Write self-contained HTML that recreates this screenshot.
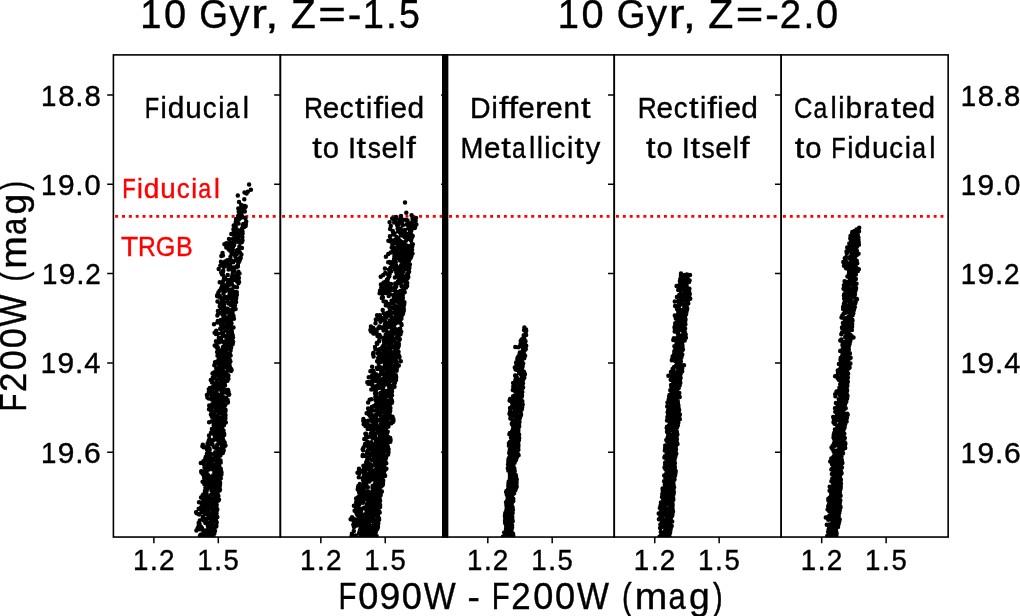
<!DOCTYPE html>
<html><head><meta charset="utf-8"><title>CMD panels</title><style>
html,body{margin:0;padding:0;background:#fff;width:1020px;height:616px;overflow:hidden}
svg{display:block;will-change:transform}
text{font-family:"Liberation Sans",sans-serif}
</style></head><body>
<svg width="1020" height="616" viewBox="0 0 1020 616"><defs><clipPath id="ax"><rect x="113.4" y="54.9" width="834.75" height="482.15"/></clipPath></defs>
<rect width="1020" height="616" fill="#fff"/>
<path fill="none" stroke="#f00" stroke-width="2.8" stroke-dasharray="2.95 3.9" d="M115.15 216.45H279.75M282.1 216.45H446.7M449.05 216.45H613.65M616 216.45H780.6M782.95 216.45H947.55"/>
<g clip-path="url(#ax)"><path fill="none" stroke="#000" stroke-width="4.5" stroke-linecap="round" d="M241.2 205.0h0M241.7 205.3h0M244.7 205.9h0M245.7 206.4h0M245.0 207.3h0M243.2 208.0h0M238.3 208.6h0M241.6 209.1h0M244.0 209.7h0M244.3 210.2h0M243.7 210.5h0M241.6 210.8h0M244.8 211.4h0M238.7 211.8h0M239.3 213.2h0M241.2 213.7h0M240.8 215.2h0M238.1 215.9h0M242.3 216.3h0M239.9 217.2h0M241.4 217.6h0M245.4 218.2h0M239.8 218.3h0M236.1 218.9h0M239.0 219.3h0M236.2 219.8h0M236.5 220.9h0M246.2 221.5h0M235.7 221.9h0M236.3 222.7h0M245.9 223.1h0M238.5 223.6h0M243.4 223.9h0M245.8 224.7h0M242.8 225.0h0M233.7 225.4h0M245.6 225.9h0M235.7 226.4h0M244.2 227.0h0M242.7 227.6h0M242.3 228.0h0M242.3 228.7h0M236.7 229.2h0M233.4 229.3h0M242.0 230.2h0M239.8 230.5h0M239.5 231.2h0M242.5 231.4h0M233.9 232.0h0M235.5 232.7h0M235.9 233.2h0M242.6 233.5h0M231.3 234.1h0M236.8 234.5h0M240.1 235.0h0M235.7 235.6h0M234.6 236.0h0M238.4 236.5h0M242.4 237.2h0M242.3 237.3h0M234.0 237.9h0M237.6 238.2h0M233.1 238.7h0M229.0 239.0h0M229.4 239.6h0M235.4 239.8h0M234.7 240.2h0M242.5 240.4h0M239.1 240.8h0M239.8 240.8h0M235.4 241.3h0M237.3 241.8h0M241.8 242.2h0M240.3 242.7h0M233.0 242.5h0M229.5 243.0h0M226.4 243.3h0M228.1 243.4h0M229.6 243.8h0M224.4 244.3h0M234.2 245.0h0M231.9 245.7h0M233.2 246.2h0M239.4 246.6h0M231.2 246.3h0M228.2 246.8h0M239.5 247.1h0M227.9 247.5h0M226.3 247.4h0M241.9 247.9h0M229.0 248.3h0M232.1 248.9h0M232.7 248.9h0M230.6 249.3h0M228.7 249.5h0M237.4 250.1h0M230.2 250.7h0M236.7 250.8h0M238.9 251.1h0M238.4 251.5h0M238.8 252.2h0M239.9 252.6h0M222.5 252.9h0M233.1 253.1h0M231.7 253.6h0M231.9 254.1h0M236.6 254.3h0M241.4 254.4h0M235.4 255.1h0M222.9 255.4h0M221.4 255.9h0M235.3 256.4h0M230.5 256.8h0M240.2 257.5h0M240.7 257.9h0M240.2 258.5h0M240.3 258.7h0M238.9 258.9h0M230.5 259.3h0M229.6 259.8h0M227.4 260.2h0M235.8 260.3h0M239.5 260.7h0M227.8 261.2h0M232.3 261.0h0M220.9 261.7h0M225.1 261.5h0M238.3 262.1h0M238.9 262.0h0M233.2 262.3h0M226.8 263.1h0M225.7 263.4h0M222.7 264.2h0M229.8 264.2h0M228.7 264.3h0M226.3 264.9h0M237.9 265.0h0M230.1 265.4h0M220.3 265.7h0M229.6 266.2h0M223.5 265.9h0M236.9 266.3h0M237.9 266.5h0M236.3 267.2h0M224.1 266.8h0M234.1 267.6h0M228.4 267.3h0M232.4 267.8h0M232.1 268.3h0M231.0 268.4h0M218.7 269.0h0M228.6 269.4h0M233.4 269.8h0M232.7 270.4h0M223.2 270.4h0M232.8 271.1h0M234.0 270.9h0M223.1 271.6h0M238.4 271.8h0M222.9 272.1h0M221.3 272.4h0M221.3 272.8h0M237.4 273.6h0M239.5 273.4h0M238.2 273.8h0M232.5 273.9h0M222.1 274.4h0M222.9 274.7h0M227.7 275.0h0M238.0 275.4h0M237.5 275.5h0M234.8 275.8h0M238.1 276.6h0M237.6 276.4h0M231.8 277.1h0M224.8 277.6h0M238.1 277.7h0M224.0 278.2h0M238.9 277.9h0M234.5 278.6h0M231.8 278.4h0M235.4 278.8h0M234.8 278.8h0M230.8 279.7h0M224.9 279.3h0M234.0 279.9h0M228.0 280.1h0M236.7 280.3h0M223.3 280.9h0M237.1 281.4h0M229.5 281.7h0M239.1 282.0h0M219.7 282.3h0M238.4 283.2h0M227.9 283.1h0M231.2 283.4h0M222.7 284.0h0M231.7 283.8h0M232.0 284.4h0M229.4 284.3h0M229.3 284.8h0M226.5 284.9h0M224.4 285.4h0M225.3 286.1h0M222.1 286.2h0M234.3 286.7h0M227.1 286.3h0M225.2 286.8h0M221.6 287.7h0M237.0 287.3h0M222.0 288.2h0M221.1 288.4h0M224.9 288.9h0M232.2 289.2h0M229.0 289.6h0M223.2 289.5h0M230.0 290.0h0M226.7 290.1h0M226.1 290.5h0M219.6 290.8h0M225.8 290.8h0M232.4 291.3h0M236.8 292.2h0M235.2 292.1h0M218.4 292.6h0M234.9 293.2h0M235.3 292.9h0M223.5 293.3h0M229.7 293.7h0M229.6 294.1h0M236.8 294.4h0M232.3 294.3h0M236.8 295.1h0M217.2 295.3h0M229.4 295.5h0M219.8 296.1h0M217.2 296.3h0M224.3 296.5h0M226.7 297.2h0M220.1 297.6h0M234.7 297.5h0M228.5 298.1h0M231.9 298.2h0M227.9 298.4h0M236.2 298.3h0M227.4 299.2h0M223.4 299.3h0M235.2 299.6h0M234.3 300.0h0M232.2 299.9h0M221.9 300.4h0M232.3 300.7h0M227.7 301.1h0M217.5 301.4h0M236.1 301.9h0M223.8 302.7h0M231.0 303.2h0M233.8 303.7h0M228.5 303.4h0M220.2 303.8h0M224.1 304.3h0M230.8 305.1h0M231.6 305.0h0M233.1 305.7h0M235.0 305.3h0M219.7 306.2h0M233.0 306.2h0M223.0 306.3h0M221.5 307.0h0M222.5 307.6h0M224.6 307.7h0M233.5 307.8h0M227.7 308.7h0M220.9 308.4h0M235.6 309.0h0M232.3 309.5h0M232.9 310.2h0M223.0 310.1h0M230.3 310.6h0M224.8 311.2h0M217.9 310.9h0M226.5 311.7h0M225.6 312.1h0M231.1 311.9h0M229.3 312.3h0M227.7 312.5h0M221.0 312.9h0M232.6 313.3h0M222.4 313.8h0M222.4 314.2h0M217.7 314.7h0M230.1 314.8h0M217.4 315.4h0M231.2 315.5h0M224.4 316.1h0M233.5 316.0h0M223.4 316.6h0M230.6 317.2h0M227.7 317.4h0M227.5 317.5h0M229.1 317.9h0M223.5 318.5h0M230.4 318.5h0M233.9 318.8h0M224.5 319.7h0M224.7 319.7h0M228.1 320.1h0M220.9 319.9h0M220.8 320.4h0M224.6 320.7h0M217.8 321.1h0M230.8 321.0h0M230.9 321.5h0M219.6 321.3h0M219.1 321.9h0M217.4 322.6h0M219.4 322.4h0M222.5 323.1h0M231.5 323.2h0M230.0 323.7h0M214.0 324.2h0M227.3 323.8h0M220.9 324.7h0M230.1 324.7h0M229.8 325.2h0M229.9 324.8h0M225.2 325.4h0M223.9 326.0h0M224.0 326.2h0M230.9 326.5h0M221.6 326.7h0M226.8 326.8h0M226.2 327.2h0M233.5 327.5h0M231.9 327.6h0M221.4 328.0h0M229.3 328.0h0M222.2 328.4h0M220.8 328.4h0M231.4 328.8h0M220.2 328.8h0M226.1 329.6h0M226.2 330.1h0M225.8 330.4h0M216.2 330.8h0M231.8 331.4h0M229.3 331.9h0M222.1 332.5h0M214.6 332.7h0M231.9 332.8h0M221.3 333.2h0M223.0 333.3h0M217.6 333.8h0M215.9 334.1h0M228.1 334.3h0M228.9 334.7h0M227.5 335.2h0M232.7 335.3h0M229.7 335.4h0M222.8 335.9h0M224.6 336.1h0M229.2 336.6h0M225.7 336.4h0M232.3 337.0h0M233.0 337.6h0M218.8 337.7h0M226.7 338.2h0M229.4 337.8h0M221.0 338.7h0M231.0 338.7h0M230.6 338.9h0M230.2 339.1h0M219.2 339.5h0M232.0 340.1h0M226.4 339.9h0M228.0 340.5h0M228.4 340.5h0M230.8 341.0h0M216.0 341.3h0M226.9 341.5h0M223.1 341.8h0M233.1 341.8h0M228.7 342.5h0M219.5 342.3h0M232.8 343.0h0M224.2 343.1h0M231.8 343.7h0M232.2 343.3h0M216.6 343.8h0M231.1 344.0h0M226.3 344.5h0M232.6 344.3h0M230.8 344.8h0M228.6 345.1h0M214.7 345.6h0M226.5 346.0h0M216.0 346.4h0M223.0 346.9h0M217.8 347.2h0M231.1 347.7h0M216.9 347.3h0M229.4 348.0h0M229.1 348.6h0M217.3 348.3h0M224.4 349.2h0M222.1 349.4h0M229.3 349.3h0M226.4 350.0h0M219.5 350.4h0M230.6 350.4h0M220.8 350.8h0M223.8 351.5h0M217.1 352.1h0M218.0 352.3h0M223.0 352.9h0M226.5 353.5h0M229.2 353.8h0M230.0 354.2h0M220.4 354.4h0M224.4 354.5h0M222.9 355.1h0M228.2 354.9h0M230.6 355.5h0M223.1 356.2h0M217.5 355.8h0M228.1 356.3h0M225.9 356.3h0M223.6 357.1h0M226.2 356.8h0M222.1 357.3h0M220.4 357.5h0M226.6 358.2h0M219.8 358.7h0M227.0 358.9h0M218.7 359.2h0M229.5 359.7h0M229.8 360.0h0M224.1 360.0h0M220.4 360.3h0M229.0 360.3h0M217.4 361.2h0M224.0 361.0h0M230.4 361.4h0M224.6 361.5h0M222.1 362.0h0M215.0 362.3h0M217.8 362.4h0M228.5 363.0h0M224.8 363.1h0M222.9 363.5h0M218.2 363.4h0M219.7 363.8h0M221.8 364.2h0M227.5 364.3h0M229.4 364.3h0M214.3 365.2h0M226.9 364.9h0M225.7 365.7h0M228.6 365.6h0M227.4 366.1h0M223.9 366.2h0M229.8 366.4h0M221.3 366.6h0M220.1 366.9h0M229.4 367.0h0M218.3 367.5h0M224.0 367.7h0M229.5 368.2h0M216.3 368.2h0M227.8 368.7h0M222.6 368.6h0M219.2 368.9h0M231.1 369.0h0M219.4 369.5h0M231.2 369.5h0M231.6 370.0h0M228.0 369.9h0M228.0 370.3h0M231.0 371.0h0M217.2 371.5h0M215.3 371.6h0M223.7 372.0h0M226.6 372.1h0M222.6 372.3h0M220.9 372.4h0M222.2 372.8h0M213.4 372.8h0M226.6 373.7h0M212.5 373.6h0M224.4 373.8h0M216.2 374.2h0M217.6 374.4h0M219.2 374.4h0M227.9 374.9h0M227.3 374.9h0M228.4 375.7h0M215.4 375.6h0M215.3 375.9h0M217.9 375.8h0M225.9 376.4h0M214.2 376.4h0M222.9 376.8h0M223.7 376.9h0M212.7 377.7h0M213.2 378.1h0M228.4 378.7h0M219.7 378.5h0M223.5 379.2h0M221.2 378.9h0M220.2 379.6h0M220.7 379.4h0M216.6 379.9h0M210.8 379.9h0M223.5 380.5h0M227.4 380.7h0M211.8 380.8h0M222.4 381.5h0M222.3 381.4h0M212.5 382.2h0M223.8 381.8h0M212.0 382.4h0M216.5 382.4h0M220.3 382.9h0M215.7 383.2h0M214.3 383.7h0M221.0 383.4h0M224.8 384.2h0M223.9 384.1h0M223.8 384.4h0M222.6 384.7h0M217.5 385.1h0M217.0 385.2h0M224.1 385.6h0M225.0 385.5h0M221.4 385.9h0M215.4 386.4h0M214.3 386.6h0M212.7 387.0h0M215.2 387.2h0M219.8 387.7h0M220.6 387.6h0M209.9 387.9h0M211.9 387.9h0M222.8 388.3h0M214.5 388.4h0M208.8 389.2h0M223.9 389.1h0M219.7 389.5h0M216.8 389.5h0M227.8 390.1h0M228.1 389.9h0M212.6 389.8h0M226.0 390.3h0M228.0 390.6h0M223.8 390.8h0M225.7 390.9h0M212.3 391.5h0M228.4 391.5h0M210.5 392.2h0M208.8 392.0h0M223.4 392.7h0M226.4 392.5h0M221.9 393.0h0M214.4 393.1h0M227.6 393.4h0M216.8 393.4h0M208.4 394.0h0M229.2 394.2h0M229.0 394.7h0M220.7 394.5h0M217.6 394.9h0M206.9 395.1h0M215.0 395.5h0M218.7 395.4h0M219.1 396.2h0M212.1 396.0h0M212.1 396.0h0M219.6 396.5h0M219.9 396.5h0M219.0 397.1h0M223.0 397.2h0M215.2 397.2h0M224.1 397.6h0M207.4 397.4h0M219.8 397.9h0M222.4 398.2h0M226.2 398.1h0M223.6 398.7h0M208.8 398.6h0M222.6 399.1h0M224.4 399.2h0M211.7 399.5h0M225.1 399.3h0M214.5 400.2h0M218.2 400.2h0M227.6 399.9h0M224.0 400.3h0M224.5 400.4h0M219.6 400.9h0M219.1 400.8h0M216.3 401.4h0M213.7 401.5h0M227.9 401.8h0M220.8 401.9h0M227.9 402.5h0M223.0 402.6h0M220.8 403.1h0M222.1 403.1h0M217.8 403.3h0M213.1 403.7h0M213.7 403.9h0M213.3 403.8h0M215.5 404.5h0M212.2 404.3h0M218.3 404.8h0M225.3 404.9h0M209.2 405.6h0M210.4 405.4h0M219.7 405.6h0M218.7 406.2h0M224.6 405.8h0M210.5 406.6h0M219.8 406.6h0M213.2 407.0h0M211.6 406.8h0M221.4 407.3h0M209.7 407.6h0M223.2 408.0h0M218.6 408.1h0M222.2 408.4h0M215.9 408.5h0M209.7 409.0h0M222.4 409.7h0M209.0 409.3h0M217.1 409.8h0M225.5 409.8h0M210.7 410.6h0M217.1 410.4h0M216.5 411.2h0M225.5 410.9h0M212.9 411.4h0M219.9 411.7h0M218.6 412.2h0M224.0 412.1h0M213.5 412.5h0M219.2 413.0h0M223.8 413.7h0M214.2 413.8h0M210.9 414.6h0M225.5 414.9h0M222.5 414.8h0M213.2 415.3h0M211.6 415.3h0M217.5 415.9h0M224.5 416.4h0M225.3 416.6h0M211.9 416.8h0M215.8 416.9h0M220.5 417.5h0M218.1 417.7h0M221.0 417.9h0M225.4 418.4h0M215.5 418.7h0M214.9 418.8h0M217.9 419.2h0M217.1 419.7h0M221.3 419.6h0M217.3 420.1h0M217.7 420.1h0M224.2 420.6h0M217.2 420.4h0M224.5 421.0h0M211.9 421.2h0M223.9 421.3h0M222.5 421.3h0M209.1 422.2h0M216.9 421.8h0M225.8 422.5h0M221.3 422.6h0M216.8 422.9h0M213.3 422.8h0M217.6 423.3h0M220.5 423.4h0M222.7 424.1h0M223.1 424.0h0M218.4 424.3h0M215.0 424.6h0M222.2 424.9h0M220.2 425.1h0M213.7 425.5h0M223.9 425.3h0M215.3 426.2h0M214.4 426.2h0M215.9 426.7h0M219.3 426.5h0M219.5 427.1h0M221.2 426.9h0M222.0 427.3h0M220.8 427.3h0M220.0 427.8h0M219.6 428.0h0M221.9 428.3h0M216.4 429.2h0M211.9 428.9h0M222.6 429.5h0M214.6 429.4h0M221.5 429.9h0M213.8 430.5h0M217.5 430.7h0M223.5 430.8h0M212.8 431.0h0M212.9 431.6h0M221.4 431.5h0M218.5 432.2h0M217.7 432.7h0M216.0 432.6h0M211.0 432.8h0M219.2 432.8h0M212.6 433.5h0M213.0 433.3h0M224.1 433.8h0M218.4 434.5h0M219.8 434.6h0M221.5 435.2h0M224.2 435.0h0M222.1 435.5h0M209.0 435.4h0M221.8 436.2h0M218.6 436.4h0M214.9 436.6h0M220.9 436.8h0M216.8 437.0h0M217.4 437.3h0M215.9 437.6h0M217.0 437.9h0M218.6 437.8h0M222.7 438.3h0M216.2 438.5h0M216.1 438.9h0M209.4 438.9h0M216.7 439.4h0M220.3 439.4h0M213.0 439.9h0M223.2 440.0h0M221.0 439.8h0M213.3 440.3h0M218.9 440.4h0M208.6 440.9h0M221.3 441.0h0M223.8 441.6h0M222.5 441.3h0M211.6 442.2h0M218.7 441.8h0M224.7 442.6h0M222.3 442.5h0M222.2 443.2h0M221.3 443.2h0M207.6 443.4h0M219.0 443.4h0M221.3 443.6h0M222.3 443.8h0M222.5 443.8h0M202.8 444.7h0M212.5 444.5h0M207.4 445.2h0M217.3 444.8h0M221.9 445.1h0M222.2 445.4h0M225.5 445.4h0M223.8 445.7h0M202.4 446.2h0M208.4 445.8h0M222.8 446.4h0M224.4 446.6h0M217.1 447.2h0M217.3 447.0h0M214.2 447.2h0M221.9 447.5h0M223.2 447.6h0M203.6 447.3h0M223.0 448.0h0M215.9 447.9h0M217.3 448.6h0M209.5 448.5h0M218.0 449.2h0M218.7 448.9h0M220.4 449.3h0M206.9 449.3h0M209.7 449.7h0M207.4 450.2h0M207.6 450.0h0M209.0 450.4h0M223.7 450.4h0M222.6 450.7h0M219.7 450.8h0M219.3 451.0h0M219.0 451.4h0M222.4 451.4h0M215.2 452.2h0M209.2 451.8h0M218.8 452.5h0M219.9 452.4h0M222.8 453.1h0M219.1 453.2h0M210.8 453.7h0M210.9 453.7h0M214.1 454.2h0M206.9 453.8h0M216.8 454.5h0M215.0 454.7h0M219.8 455.1h0M218.2 455.2h0M217.9 455.6h0M220.4 455.6h0M215.4 455.8h0M209.1 455.9h0M218.7 456.6h0M209.9 456.6h0M208.7 457.0h0M205.7 457.1h0M209.6 457.4h0M218.3 457.7h0M213.3 458.1h0M211.1 458.1h0M214.0 458.5h0M214.1 458.7h0M205.2 459.1h0M216.2 458.9h0M210.1 459.3h0M216.6 459.5h0M215.8 459.9h0M213.0 460.2h0M220.5 460.6h0M216.0 460.4h0M218.7 461.1h0M206.8 460.8h0M207.6 460.8h0M219.3 461.5h0M203.4 461.3h0M219.4 462.0h0M217.6 461.8h0M211.1 462.4h0M220.7 462.6h0M217.1 462.8h0M200.8 463.0h0M216.5 463.3h0M218.6 463.3h0M210.1 463.9h0M208.0 464.0h0M204.0 464.5h0M213.1 464.5h0M214.7 464.6h0M209.5 465.2h0M212.1 464.9h0M204.4 465.6h0M216.9 465.6h0M216.6 465.8h0M219.3 466.2h0M205.3 465.8h0M214.7 466.7h0M218.5 466.3h0M210.5 467.0h0M216.7 466.8h0M206.1 467.3h0M215.6 467.7h0M209.7 468.1h0M204.5 467.8h0M211.6 468.3h0M217.9 468.4h0M216.2 469.1h0M220.7 468.8h0M212.9 469.5h0M208.9 469.6h0M219.5 469.6h0M217.9 469.8h0M205.8 469.9h0M221.0 470.7h0M216.5 470.7h0M206.5 471.0h0M201.2 471.2h0M217.3 471.3h0M217.9 471.6h0M214.4 472.2h0M202.8 471.9h0M201.4 472.6h0M221.5 472.5h0M215.4 473.1h0M206.3 472.8h0M205.6 473.7h0M214.5 473.6h0M215.7 473.8h0M202.8 473.9h0M221.4 474.4h0M217.3 474.3h0M207.7 474.6h0M216.5 475.2h0M218.0 474.9h0M213.6 475.3h0M204.6 475.7h0M213.2 475.3h0M218.9 476.2h0M206.8 476.0h0M204.0 476.1h0M206.2 476.4h0M209.5 476.6h0M219.2 477.1h0M218.5 476.8h0M216.0 477.3h0M211.4 477.4h0M204.2 477.9h0M212.8 477.9h0M220.8 478.3h0M220.4 478.4h0M218.8 478.8h0M208.2 479.1h0M211.3 479.3h0M214.7 479.3h0M216.3 479.9h0M211.7 480.1h0M205.6 480.5h0M219.4 480.4h0M210.5 480.8h0M216.4 481.2h0M206.6 481.0h0M213.9 481.7h0M210.8 481.7h0M209.9 482.1h0M202.6 481.8h0M207.1 482.5h0M215.6 482.4h0M220.1 482.8h0M212.0 483.2h0M206.6 483.5h0M210.7 483.7h0M209.8 484.2h0M204.3 483.9h0M220.0 484.5h0M217.1 484.5h0M205.9 485.2h0M212.8 485.1h0M206.7 485.5h0M214.7 485.6h0M216.9 486.0h0M214.7 486.1h0M219.7 486.4h0M206.1 486.7h0M216.2 486.9h0M206.2 486.8h0M209.6 487.3h0M212.7 487.6h0M205.4 487.8h0M214.5 487.9h0M216.1 488.6h0M213.7 488.7h0M216.0 488.9h0M217.0 489.2h0M212.8 489.3h0M207.0 489.3h0M214.7 489.9h0M220.0 489.8h0M219.6 490.4h0M211.5 490.5h0M206.7 490.8h0M204.9 491.1h0M215.2 491.5h0M212.1 491.3h0M216.5 492.0h0M216.5 491.9h0M213.9 492.3h0M206.2 492.5h0M215.0 493.1h0M205.8 493.1h0M205.5 493.6h0M206.5 493.4h0M216.8 494.2h0M216.2 493.9h0M203.3 494.5h0M217.7 494.3h0M210.9 494.9h0M214.7 495.1h0M202.6 495.5h0M205.4 495.5h0M215.4 496.0h0M218.4 496.1h0M209.3 496.4h0M217.9 496.5h0M206.1 497.1h0M215.2 496.8h0M201.0 497.6h0M202.6 497.3h0M203.0 498.1h0M208.1 497.8h0M202.0 498.1h0M217.4 498.7h0M211.4 498.5h0M213.9 498.8h0M218.4 499.2h0M203.8 499.5h0M219.0 499.7h0M205.5 500.0h0M215.4 500.0h0M214.1 500.7h0M218.0 500.7h0M215.2 500.4h0M205.2 500.8h0M216.6 500.9h0M213.1 501.7h0M215.6 501.3h0M213.3 502.1h0M209.0 501.9h0M201.5 502.4h0M199.0 502.3h0M201.5 502.8h0M212.9 503.0h0M216.2 503.7h0M212.6 503.7h0M209.0 503.5h0M207.6 504.0h0M215.8 503.9h0M211.5 504.7h0M205.3 504.5h0M214.3 504.4h0M212.4 504.9h0M205.2 505.1h0M216.7 504.9h0M212.1 505.5h0M206.8 505.3h0M215.3 505.7h0M216.0 506.2h0M208.1 506.1h0M213.8 506.1h0M201.6 506.5h0M206.0 506.3h0M212.5 506.4h0M216.0 507.0h0M211.8 507.1h0M216.5 507.7h0M205.4 507.3h0M210.8 508.0h0M200.9 507.8h0M209.4 508.3h0M200.3 508.3h0M202.6 508.3h0M206.1 509.0h0M198.7 508.8h0M217.3 509.4h0M205.1 509.6h0M208.4 510.2h0M211.9 510.1h0M216.2 510.0h0M208.0 510.6h0M216.9 510.4h0M214.7 510.5h0M207.9 510.8h0M213.5 510.9h0M206.7 511.7h0M203.4 511.7h0M206.2 511.9h0M201.4 511.9h0M215.9 512.4h0M196.1 512.3h0M213.5 512.4h0M216.6 513.2h0M205.3 513.1h0M214.7 512.8h0M212.3 513.7h0M196.6 513.3h0M211.3 513.8h0M199.3 514.1h0M205.3 513.9h0M211.3 514.3h0M199.1 514.6h0M210.7 514.5h0M208.4 515.2h0M209.0 514.9h0M208.1 515.3h0M213.0 515.3h0M208.4 516.0h0M216.7 516.2h0M203.0 516.4h0M215.5 516.6h0M217.3 516.9h0M212.4 517.1h0M214.5 517.4h0M215.9 517.7h0M212.4 517.6h0M215.5 518.0h0M216.1 518.1h0M202.5 518.7h0M210.2 518.5h0M211.7 518.6h0M205.7 519.2h0M212.4 519.2h0M206.6 519.1h0M210.8 519.7h0M204.7 519.7h0M215.2 519.5h0M211.6 519.9h0M215.9 519.8h0M199.8 520.5h0M204.1 520.7h0M213.0 521.2h0M212.7 521.0h0M206.3 521.7h0M213.4 521.6h0M216.4 521.8h0M211.0 522.0h0M207.4 522.4h0M209.2 522.7h0M216.7 522.5h0M205.4 522.9h0M198.7 522.8h0M210.1 523.7h0M211.1 523.7h0M210.8 524.1h0M199.6 524.0h0M207.9 524.7h0M210.8 524.7h0M211.0 524.8h0M216.3 525.0h0M198.7 525.3h0M213.7 525.7h0M207.9 525.7h0M211.0 526.2h0M216.2 526.1h0M200.8 526.6h0M216.3 526.6h0M211.2 526.9h0M214.5 526.8h0M212.5 527.5h0M208.3 527.5h0M197.7 528.0h0M201.9 528.0h0M212.8 528.5h0M214.4 528.3h0M198.5 528.8h0M209.1 528.9h0M201.5 528.9h0M213.9 529.5h0M199.9 529.3h0M208.8 530.1h0M202.9 530.1h0M206.0 530.6h0M196.4 530.4h0M215.0 530.9h0M208.9 531.0h0M209.2 530.8h0M213.5 531.5h0M205.2 531.6h0M211.4 531.3h0M209.0 532.2h0M211.0 531.9h0M206.7 532.4h0M208.8 532.6h0M203.9 532.3h0M211.9 532.8h0M212.1 532.8h0M208.0 533.3h0M214.3 533.7h0M211.6 534.2h0M205.8 534.0h0M201.1 534.5h0M206.1 534.4h0M204.2 535.1h0M208.2 535.0h0M212.5 535.4h0M200.0 535.6h0M210.4 535.6h0M203.2 535.9h0M208.7 535.9h0M209.7 536.1h0M207.9 536.3h0M201.4 536.7h0M210.1 536.9h0M208.8 536.9h0M211.9 537.7h0M202.9 537.4h0M213.4 537.3h0M212.4 537.9h0M211.0 538.0h0M201.6 538.2h0M202.0 538.4h0M201.7 538.4h0M206.5 538.8h0M207.5 538.9h0M211.0 539.4h0M205.7 539.4h0M194.9 539.6h0M204.2 539.9h0M200.3 539.9h0M249.1 184.5h0M250.9 189.7h0M244.5 192.5h0M246.5 193.5h0M247.8 191.8h0M237.8 195.4h0M244.3 199.3h0M239.0 202.0h0M400.7 218.1h0M392.2 218.4h0M412.5 218.4h0M393.3 219.1h0M396.1 218.8h0M400.0 219.5h0M403.3 219.7h0M413.4 219.9h0M406.4 219.9h0M415.5 220.3h0M407.5 220.4h0M412.6 221.0h0M415.6 221.0h0M407.5 221.5h0M400.4 221.6h0M412.2 222.1h0M389.6 222.2h0M407.8 222.5h0M394.2 222.6h0M397.3 222.8h0M402.2 222.8h0M407.7 223.6h0M410.7 223.4h0M412.2 224.1h0M398.4 224.2h0M406.9 224.6h0M416.4 224.4h0M402.8 225.2h0M407.9 225.2h0M414.0 225.3h0M397.2 225.3h0M390.8 225.9h0M414.1 226.2h0M410.7 226.7h0M411.1 226.4h0M414.3 227.1h0M412.4 227.1h0M410.1 227.3h0M415.0 227.6h0M398.7 227.9h0M414.8 228.0h0M397.6 228.4h0M408.3 228.5h0M400.8 229.1h0M390.1 229.1h0M398.0 229.4h0M399.7 229.6h0M410.6 230.1h0M404.9 230.1h0M411.3 230.6h0M410.0 230.6h0M392.8 231.0h0M401.5 230.9h0M398.1 231.3h0M403.3 231.5h0M399.5 232.2h0M393.0 232.1h0M402.0 232.6h0M404.9 232.5h0M404.7 232.8h0M410.7 232.9h0M394.4 233.5h0M394.3 233.5h0M408.2 233.8h0M393.6 233.9h0M405.7 234.7h0M393.2 234.6h0M411.5 234.9h0M400.9 235.0h0M409.0 235.3h0M402.1 235.5h0M389.9 236.2h0M412.7 236.1h0M409.3 236.3h0M406.4 236.6h0M404.6 237.0h0M396.5 237.1h0M408.0 237.5h0M408.4 237.6h0M411.7 238.1h0M397.3 237.9h0M398.4 238.5h0M397.6 238.4h0M409.0 239.1h0M390.7 239.5h0M410.1 239.5h0M394.9 240.0h0M410.7 240.0h0M411.1 240.5h0M405.9 240.7h0M388.4 240.8h0M399.9 240.8h0M390.0 241.3h0M401.0 241.7h0M394.3 242.2h0M398.3 242.2h0M402.8 242.4h0M400.5 242.5h0M402.8 242.9h0M404.2 243.2h0M393.7 243.5h0M397.4 243.7h0M412.8 244.2h0M411.8 244.2h0M402.1 244.7h0M392.4 244.6h0M404.4 244.8h0M397.8 244.9h0M406.6 245.5h0M402.3 245.3h0M412.3 246.2h0M409.0 246.6h0M408.9 246.4h0M399.6 246.9h0M408.0 247.2h0M391.7 247.5h0M392.8 247.3h0M405.7 248.2h0M395.0 247.9h0M398.4 248.3h0M409.4 248.3h0M392.9 248.8h0M402.1 248.9h0M412.1 249.7h0M410.0 249.7h0M405.3 250.1h0M393.7 249.8h0M403.1 250.7h0M407.9 250.4h0M396.2 250.9h0M403.5 251.2h0M398.1 251.6h0M394.7 251.6h0M409.9 251.8h0M399.3 252.2h0M402.9 252.7h0M390.8 252.5h0M398.8 253.2h0M406.8 252.9h0M394.1 252.9h0M399.4 253.6h0M412.5 253.4h0M388.3 254.0h0M408.2 254.2h0M408.2 254.0h0M396.0 254.6h0M395.7 254.5h0M407.2 254.3h0M406.0 255.2h0M403.4 255.2h0M409.5 255.5h0M395.7 255.6h0M394.4 256.2h0M411.4 256.0h0M399.7 256.7h0M385.9 256.7h0M406.4 257.1h0M406.7 256.9h0M404.1 257.6h0M410.7 257.7h0M399.0 257.9h0M406.6 258.0h0M409.9 258.4h0M395.9 258.7h0M394.1 258.8h0M400.6 259.2h0M406.7 259.7h0M406.5 259.3h0M406.8 260.1h0M405.4 260.2h0M409.1 260.6h0M400.0 260.4h0M408.2 261.1h0M402.7 261.1h0M393.3 261.4h0M405.1 261.7h0M388.2 262.2h0M389.6 262.1h0M402.3 262.4h0M395.8 262.3h0M403.3 263.0h0M403.0 262.9h0M390.8 263.4h0M407.0 263.5h0M408.3 264.0h0M391.9 263.8h0M404.4 264.5h0M409.9 264.4h0M407.3 264.8h0M401.1 265.2h0M392.8 265.4h0M396.3 265.7h0M408.1 266.2h0M405.4 266.2h0M403.6 266.5h0M403.1 266.7h0M393.9 267.0h0M400.5 266.8h0M397.4 267.5h0M409.3 267.4h0M399.1 268.0h0M390.3 268.0h0M409.2 268.4h0M384.9 268.4h0M406.7 269.1h0M394.9 269.0h0M401.3 269.7h0M404.8 269.3h0M397.7 269.4h0M395.8 270.1h0M399.5 270.0h0M388.9 269.8h0M398.6 270.4h0M397.6 270.7h0M396.7 270.8h0M391.3 271.2h0M403.4 271.4h0M409.1 271.7h0M390.5 271.6h0M402.6 271.8h0M403.0 272.0h0M402.7 272.5h0M401.9 272.4h0M396.3 272.6h0M389.8 272.8h0M397.4 273.1h0M385.2 272.9h0M407.5 273.6h0M400.6 273.4h0M408.0 273.9h0M389.7 274.0h0M389.1 274.7h0M388.0 274.3h0M383.3 274.9h0M396.8 274.9h0M402.5 275.4h0M406.7 275.5h0M389.3 276.2h0M397.5 276.2h0M404.1 276.5h0M399.1 276.6h0M408.3 277.1h0M380.7 276.8h0M394.9 277.6h0M404.7 277.4h0M401.9 277.7h0M405.5 278.0h0M407.0 278.2h0M402.1 278.1h0M407.4 278.6h0M400.5 278.6h0M388.1 278.3h0M399.1 279.2h0M407.0 278.8h0M400.4 279.3h0M406.2 279.5h0M387.1 280.2h0M386.9 279.8h0M400.6 280.3h0M405.3 280.5h0M403.5 280.8h0M399.3 281.0h0M402.4 281.2h0M386.5 281.5h0M397.8 281.7h0M385.0 281.9h0M387.8 282.0h0M405.6 282.7h0M399.1 282.6h0M383.5 282.7h0M407.2 282.9h0M400.4 283.1h0M397.5 283.5h0M395.2 283.5h0M391.0 283.9h0M389.8 283.9h0M380.9 284.6h0M389.8 284.5h0M385.2 285.2h0M405.8 285.0h0M387.7 285.2h0M385.2 285.6h0M401.6 285.4h0M401.6 286.2h0M407.1 286.0h0M382.4 286.1h0M401.9 286.5h0M396.2 286.5h0M390.4 286.7h0M381.6 286.9h0M394.9 287.0h0M406.0 287.6h0M381.3 287.6h0M388.1 287.8h0M394.5 287.9h0M404.4 288.4h0M395.2 288.6h0M385.7 289.2h0M382.8 288.8h0M384.2 288.9h0M389.8 289.4h0M393.4 289.4h0M391.4 289.9h0M383.1 290.1h0M393.9 290.1h0M380.1 290.4h0M402.0 290.4h0M386.6 290.9h0M401.0 291.1h0M403.7 290.8h0M383.1 291.5h0M401.8 291.5h0M399.9 291.3h0M387.0 291.8h0M396.7 291.9h0M388.5 292.5h0M404.7 292.3h0M396.3 292.5h0M403.1 292.8h0M385.6 293.0h0M403.6 292.8h0M379.6 293.3h0M382.6 293.7h0M400.7 293.8h0M397.1 293.8h0M390.2 294.4h0M394.2 294.5h0M400.8 294.4h0M399.8 295.1h0M394.7 294.9h0M402.7 295.5h0M393.8 295.6h0M400.6 295.7h0M397.9 295.9h0M388.7 296.0h0M402.7 296.6h0M399.5 296.4h0M402.7 296.9h0M382.3 297.2h0M400.7 297.5h0M393.9 297.5h0M382.9 297.6h0M400.5 298.2h0M381.8 297.9h0M399.6 298.5h0M402.8 298.4h0M399.8 298.9h0M398.6 299.1h0M402.1 299.5h0M398.1 299.7h0M400.7 300.2h0M396.5 299.8h0M394.6 300.4h0M391.6 300.7h0M394.2 300.9h0M395.3 301.2h0M398.2 301.3h0M383.6 301.3h0M404.4 302.2h0M385.9 301.8h0M394.0 302.4h0M398.2 302.6h0M391.5 302.8h0M391.6 302.8h0M401.6 303.7h0M392.0 303.4h0M404.2 303.8h0M388.6 304.0h0M400.6 304.7h0M387.9 304.3h0M403.7 304.7h0M404.1 304.8h0M385.8 305.2h0M388.5 305.2h0M401.4 305.7h0M403.0 305.4h0M395.6 306.2h0M388.0 305.8h0M399.3 306.6h0M403.6 306.5h0M397.5 307.2h0M389.3 307.2h0M400.7 307.5h0M393.4 307.7h0M390.0 307.5h0M389.6 307.8h0M396.9 307.9h0M400.6 308.3h0M393.9 308.3h0M403.7 308.8h0M396.2 308.9h0M403.8 309.4h0M390.5 309.5h0M382.7 310.1h0M395.4 309.8h0M397.6 310.5h0M395.7 310.5h0M389.8 311.2h0M403.7 310.9h0M397.0 311.1h0M400.2 311.4h0M403.3 311.4h0M396.9 312.2h0M395.0 311.8h0M388.6 312.5h0M393.9 312.7h0M391.5 312.6h0M383.7 313.2h0M390.3 312.9h0M387.4 313.0h0M403.0 313.7h0M396.3 313.3h0M398.7 314.1h0M385.1 314.2h0M390.9 313.9h0M400.5 314.3h0M387.8 314.6h0M397.4 314.8h0M377.1 315.2h0M390.1 315.7h0M379.8 315.3h0M397.4 316.2h0M401.7 316.1h0M384.9 316.7h0M385.2 316.6h0M395.6 316.5h0M378.3 316.9h0M379.5 317.1h0M392.2 317.6h0M397.7 317.4h0M386.3 317.8h0M398.6 318.2h0M382.8 318.3h0M383.8 318.5h0M399.7 318.6h0M396.3 318.8h0M401.4 318.8h0M379.1 319.5h0M375.8 319.4h0M381.0 319.4h0M384.0 319.9h0M384.0 320.2h0M394.8 319.8h0M399.0 320.4h0M390.0 320.4h0M391.6 320.6h0M384.9 320.8h0M397.3 321.2h0M395.4 321.4h0M396.7 321.4h0M399.9 321.5h0M380.5 321.8h0M396.1 321.8h0M391.6 322.5h0M397.6 322.4h0M388.6 322.4h0M375.5 323.2h0M391.9 322.9h0M390.1 322.8h0M389.2 323.3h0M395.1 323.5h0M388.2 323.7h0M384.9 324.2h0M401.3 324.0h0M393.4 324.2h0M394.6 324.5h0M385.2 324.6h0M393.0 325.0h0M392.9 325.2h0M401.6 324.9h0M385.0 325.3h0M385.7 325.4h0M385.9 325.8h0M384.7 326.0h0M387.3 325.8h0M379.4 326.4h0M393.7 326.6h0M370.9 326.4h0M382.9 327.2h0M384.1 327.2h0M390.5 327.2h0M386.9 327.3h0M393.6 327.6h0M381.7 327.7h0M378.3 328.2h0M373.3 328.1h0M372.0 328.1h0M395.0 328.7h0M384.7 328.3h0M385.3 328.3h0M384.2 328.9h0M399.1 329.0h0M400.2 328.8h0M374.0 329.3h0M385.5 329.5h0M384.1 329.6h0M399.6 330.2h0M370.4 330.0h0M398.5 330.0h0M397.9 330.3h0M383.6 330.6h0M376.4 330.8h0M371.4 331.2h0M386.5 331.0h0M391.5 331.3h0M371.0 331.6h0M400.4 331.7h0M394.8 332.0h0M401.2 331.8h0M376.6 332.1h0M396.8 332.3h0M400.4 332.4h0M397.1 332.6h0M387.8 332.8h0M389.1 333.1h0M374.4 333.6h0M373.4 333.4h0M395.0 333.4h0M388.6 334.0h0M396.7 334.0h0M400.5 334.3h0M388.7 334.5h0M392.6 334.5h0M385.6 334.9h0M379.5 335.0h0M386.5 334.9h0M398.0 335.4h0M391.7 335.5h0M377.5 336.1h0M391.8 335.8h0M380.4 336.6h0M386.2 336.4h0M386.7 336.4h0M390.5 337.0h0M398.5 336.8h0M389.8 337.0h0M390.0 337.3h0M397.9 337.3h0M396.9 337.7h0M383.4 338.2h0M392.7 337.8h0M379.3 337.8h0M394.4 338.7h0M387.5 338.6h0M399.8 339.2h0M387.6 339.1h0M393.0 338.9h0M393.2 339.3h0M387.6 339.3h0M399.3 340.1h0M383.6 340.0h0M394.6 340.6h0M390.9 340.6h0M379.0 341.2h0M389.5 341.1h0M385.0 341.3h0M384.2 341.7h0M391.4 342.2h0M391.3 342.1h0M395.7 342.6h0M395.9 342.5h0M384.1 342.7h0M387.2 343.2h0M376.8 343.1h0M387.2 343.4h0M391.5 343.7h0M398.9 344.0h0M377.3 343.8h0M398.5 344.4h0M396.0 344.7h0M384.1 345.1h0M396.9 344.8h0M390.6 345.3h0M383.3 345.7h0M390.1 346.0h0M392.8 346.1h0M398.7 346.1h0M392.1 346.7h0M394.5 346.6h0M382.2 347.2h0M393.7 347.2h0M375.0 346.9h0M398.1 347.4h0M395.6 347.6h0M384.7 347.7h0M386.9 347.8h0M394.0 347.8h0M397.6 348.2h0M390.0 348.4h0M384.4 348.5h0M386.6 348.7h0M380.6 348.9h0M386.8 349.1h0M380.4 349.0h0M389.9 349.3h0M375.4 349.3h0M390.1 350.2h0M378.5 349.8h0M387.8 350.2h0M383.9 350.6h0M384.2 350.4h0M395.7 350.9h0M386.2 350.9h0M391.0 351.7h0M398.5 351.7h0M395.1 351.3h0M396.2 352.1h0M384.3 351.8h0M379.9 352.7h0M387.6 352.3h0M385.7 352.7h0M377.6 353.2h0M373.3 353.1h0M386.1 353.0h0M383.3 353.5h0M386.4 353.7h0M382.1 353.8h0M398.3 353.9h0M389.2 353.9h0M393.0 354.5h0M373.1 354.3h0M390.7 354.7h0M387.1 355.2h0M385.9 355.0h0M388.9 355.6h0M389.9 355.7h0M395.7 355.5h0M399.3 356.2h0M395.1 355.9h0M395.0 356.0h0M373.6 356.5h0M379.1 356.6h0M384.3 357.0h0M399.5 357.0h0M399.0 357.5h0M382.8 357.3h0M397.3 357.6h0M378.2 358.0h0M393.4 357.9h0M384.0 358.4h0M386.9 358.7h0M378.8 358.9h0M387.7 358.9h0M387.5 358.9h0M385.7 359.5h0M391.5 359.5h0M394.4 360.2h0M390.4 359.8h0M393.2 359.8h0M380.9 360.7h0M394.7 360.6h0M383.5 360.5h0M377.1 361.2h0M400.8 361.2h0M378.3 361.1h0M393.8 361.3h0M382.5 361.5h0M396.5 361.7h0M388.2 361.8h0M381.2 361.8h0M386.3 362.4h0M391.7 362.6h0M388.5 362.4h0M387.2 362.9h0M385.2 363.1h0M385.9 363.5h0M378.7 363.4h0M396.9 363.7h0M389.1 364.0h0M385.3 363.9h0M388.7 364.7h0M396.2 364.6h0M395.8 365.2h0M390.2 365.2h0M398.8 365.5h0M391.4 365.5h0M384.6 365.9h0M394.3 366.1h0M389.8 366.0h0M397.6 366.5h0M372.1 366.7h0M392.7 366.4h0M380.2 367.2h0M385.2 366.8h0M376.9 367.7h0M388.8 367.6h0M378.5 367.3h0M391.7 368.1h0M378.8 367.9h0M385.0 368.4h0M382.5 368.3h0M381.7 368.7h0M390.1 368.9h0M386.3 369.2h0M377.5 368.9h0M393.7 369.3h0M396.7 369.5h0M392.7 369.5h0M390.4 369.8h0M381.8 370.1h0M381.1 370.5h0M393.6 370.4h0M373.3 370.7h0M371.5 371.2h0M396.6 370.8h0M382.4 371.4h0M372.2 371.4h0M370.4 371.3h0M393.3 372.2h0M392.3 371.9h0M391.6 371.8h0M389.7 372.3h0M386.5 372.6h0M374.2 372.9h0M393.1 373.1h0M385.7 373.2h0M382.5 373.5h0M389.7 373.4h0M382.6 373.3h0M393.1 373.9h0M382.3 374.0h0M380.8 374.1h0M387.4 374.4h0M376.4 374.5h0M389.0 374.6h0M395.8 375.2h0M391.1 374.8h0M379.3 375.5h0M394.5 375.3h0M377.9 375.4h0M372.0 375.8h0M386.5 375.9h0M387.5 375.8h0M375.4 376.6h0M386.5 376.3h0M375.1 376.7h0M384.5 377.2h0M389.3 377.1h0M371.8 376.8h0M368.7 377.3h0M394.7 377.4h0M396.2 377.3h0M391.1 378.1h0M376.5 377.8h0M388.6 378.1h0M374.7 378.7h0M387.9 378.6h0M388.4 378.3h0M385.9 378.8h0M392.1 378.9h0M382.1 379.2h0M386.2 379.1h0M378.7 379.4h0M372.6 379.6h0M393.6 379.7h0M390.3 379.8h0M396.0 380.1h0M376.5 380.0h0M393.6 380.6h0M384.0 380.3h0M388.5 380.4h0M389.7 381.2h0M382.5 381.0h0M390.6 381.2h0M376.7 381.3h0M373.0 381.6h0M394.8 381.7h0M386.3 382.0h0M367.3 382.2h0M370.1 382.0h0M367.8 382.6h0M378.8 382.5h0M368.3 382.3h0M394.9 382.8h0M382.8 383.2h0M387.6 382.9h0M382.4 383.5h0M370.0 383.7h0M378.8 383.6h0M388.3 384.1h0M368.2 383.8h0M388.3 384.7h0M394.1 384.7h0M393.9 384.7h0M389.4 385.1h0M372.3 385.0h0M384.7 384.8h0M394.2 385.7h0M394.0 385.5h0M379.7 385.3h0M376.2 386.2h0M392.2 386.0h0M377.7 386.0h0M394.5 386.7h0M393.5 386.5h0M389.2 387.1h0M392.5 387.1h0M383.2 387.0h0M379.1 387.5h0M375.3 387.6h0M392.4 387.6h0M381.7 387.8h0M378.5 387.9h0M389.4 388.5h0M373.1 388.3h0M392.1 389.0h0M382.6 389.2h0M375.2 389.7h0M374.0 389.6h0M371.3 389.4h0M389.0 390.0h0M376.0 389.9h0M383.8 390.4h0M387.8 390.7h0M375.4 390.8h0M384.9 391.0h0M382.6 391.6h0M392.0 391.5h0M387.4 392.2h0M383.6 392.2h0M388.7 391.8h0M391.6 392.7h0M384.1 392.5h0M380.5 393.0h0M376.2 393.2h0M384.3 393.2h0M380.4 393.4h0M375.0 393.6h0M386.5 394.1h0M389.3 394.2h0M376.1 394.5h0M381.9 394.3h0M386.3 394.9h0M389.6 394.8h0M382.4 395.4h0M381.7 395.3h0M392.0 395.3h0M381.2 396.2h0M387.0 396.0h0M382.5 396.4h0M383.4 396.4h0M390.4 397.0h0M375.3 396.9h0M378.6 397.4h0M382.4 397.7h0M379.6 397.9h0M385.1 398.1h0M391.1 398.7h0M379.2 398.5h0M383.5 398.9h0M390.9 398.9h0M382.3 399.2h0M371.2 399.3h0M379.0 399.6h0M369.7 399.8h0M375.5 400.0h0M391.8 400.6h0M389.5 400.3h0M385.0 400.3h0M387.3 400.8h0M383.0 400.9h0M391.5 401.4h0M392.1 401.5h0M377.5 402.2h0M391.4 402.1h0M391.0 401.9h0M380.6 402.3h0M391.9 402.7h0M368.1 402.6h0M384.0 402.8h0M387.9 403.0h0M387.2 403.5h0M385.5 403.6h0M383.9 404.2h0M390.4 403.9h0M376.1 404.1h0M385.1 404.6h0M377.8 404.7h0M388.8 404.4h0M380.0 405.0h0M389.5 405.1h0M376.7 405.0h0M379.4 405.7h0M374.2 405.7h0M388.9 406.2h0M387.5 406.0h0M376.3 406.0h0M386.4 406.6h0M388.4 406.5h0M382.8 407.1h0M371.8 406.9h0M381.2 407.0h0M385.3 407.3h0M387.5 407.5h0M383.7 407.7h0M390.4 408.0h0M389.0 408.0h0M377.1 408.2h0M387.4 408.4h0M368.1 408.4h0M371.3 408.4h0M370.8 409.0h0M384.5 408.8h0M383.6 409.5h0M368.5 409.4h0M388.7 410.1h0M381.0 410.1h0M374.1 410.6h0M390.2 410.5h0M376.6 410.4h0M371.2 410.9h0M383.3 410.9h0M388.2 411.4h0M377.7 411.5h0M390.1 411.4h0M387.6 412.0h0M384.4 411.9h0M384.4 411.9h0M368.8 412.6h0M388.4 412.5h0M380.9 412.7h0M387.0 413.0h0M379.8 412.8h0M386.9 412.8h0M385.0 413.7h0M366.6 413.3h0M370.8 413.8h0M377.3 413.8h0M379.3 413.8h0M368.7 414.3h0M377.4 414.6h0M388.9 414.3h0M385.6 415.2h0M389.9 415.2h0M374.9 415.3h0M369.8 415.7h0M372.8 415.7h0M376.3 415.9h0M371.6 416.2h0M381.0 416.2h0M392.5 416.7h0M390.9 416.6h0M384.9 416.3h0M386.0 416.8h0M385.1 416.8h0M375.9 417.2h0M372.7 417.6h0M383.8 417.7h0M387.6 417.7h0M391.8 417.8h0M371.2 418.0h0M391.6 418.2h0M384.9 418.2h0M385.7 418.3h0M373.1 418.7h0M388.6 418.5h0M393.3 419.1h0M363.4 419.1h0M383.8 419.2h0M387.5 419.7h0M391.9 419.3h0M373.5 419.5h0M376.9 420.1h0M382.4 420.1h0M379.4 419.8h0M381.6 419.9h0M378.2 420.3h0M376.3 420.5h0M363.3 420.7h0M368.1 420.8h0M371.9 421.1h0M393.5 420.8h0M383.1 421.7h0M363.7 421.7h0M374.8 421.5h0M365.7 421.4h0M386.4 421.8h0M367.6 422.1h0M392.9 422.1h0M384.2 422.3h0M385.7 422.5h0M387.0 422.7h0M391.3 423.2h0M389.1 422.9h0M376.4 423.2h0M389.4 423.5h0M367.1 423.4h0M381.2 423.6h0M382.9 423.9h0M363.7 424.2h0M388.4 424.2h0M385.1 424.4h0M382.4 424.5h0M374.2 424.6h0M365.9 425.2h0M374.9 424.8h0M375.5 424.8h0M384.5 425.5h0M371.6 425.5h0M370.2 425.6h0M365.4 426.0h0M370.2 426.0h0M373.8 426.2h0M388.4 426.5h0M378.7 426.6h0M387.8 426.3h0M387.4 427.1h0M374.6 427.1h0M368.5 427.1h0M372.2 427.4h0M383.2 427.7h0M377.2 427.8h0M385.2 428.2h0M378.3 428.2h0M379.4 428.4h0M376.5 428.3h0M381.6 428.3h0M367.7 428.9h0M374.1 429.2h0M379.2 429.4h0M373.9 429.7h0M384.0 429.3h0M384.8 429.9h0M380.6 430.1h0M381.7 430.0h0M371.5 430.4h0M378.5 430.4h0M373.1 430.9h0M386.1 431.1h0M378.0 431.7h0M378.6 431.5h0M387.7 431.7h0M379.9 432.2h0M380.4 431.9h0M383.5 431.9h0M383.8 432.7h0M381.8 432.7h0M381.1 433.0h0M385.3 433.0h0M387.0 433.3h0M375.7 433.3h0M366.0 433.7h0M371.6 434.0h0M365.4 433.8h0M370.7 433.8h0M384.8 434.3h0M379.9 434.5h0M385.1 434.4h0M375.4 435.1h0M385.4 434.8h0M381.2 434.9h0M381.8 435.6h0M381.6 435.7h0M374.3 435.6h0M366.0 435.5h0M374.2 436.1h0M382.7 435.8h0M385.0 436.2h0M369.7 436.6h0M380.6 436.5h0M372.2 436.7h0M373.8 437.0h0M375.4 437.1h0M367.2 437.2h0M382.3 437.5h0M374.6 437.7h0M388.7 437.3h0M390.2 437.9h0M372.5 437.9h0M383.0 437.8h0M379.8 438.0h0M384.9 438.5h0M386.9 438.5h0M390.0 438.5h0M379.9 438.6h0M385.5 439.1h0M377.5 438.9h0M364.3 438.9h0M383.5 439.5h0M381.5 439.3h0M381.9 439.7h0M386.4 439.4h0M383.5 440.1h0M390.6 440.0h0M382.7 440.0h0M377.2 440.3h0M383.7 440.7h0M375.8 440.4h0M382.6 440.8h0M382.2 441.0h0M379.7 441.1h0M389.7 441.7h0M380.4 441.6h0M378.7 441.6h0M383.2 441.4h0M387.8 442.2h0M390.3 441.8h0M367.3 441.8h0M382.3 442.6h0M367.9 442.4h0M371.2 442.7h0M371.3 442.3h0M386.6 443.2h0M387.8 442.8h0M376.7 443.1h0M378.6 443.3h0M383.6 443.7h0M383.1 443.5h0M366.5 443.6h0M377.3 443.9h0M373.4 444.2h0M365.2 443.8h0M383.6 444.7h0M373.2 444.3h0M364.9 444.7h0M368.1 445.0h0M377.0 444.9h0M379.4 445.1h0M373.3 445.5h0M369.7 445.6h0M377.3 445.4h0M387.5 446.0h0M367.7 446.0h0M376.8 445.8h0M378.3 446.7h0M387.8 446.7h0M377.1 446.3h0M381.7 447.2h0M372.2 447.0h0M368.3 447.1h0M385.5 447.3h0M363.6 447.5h0M380.7 447.7h0M371.8 447.9h0M386.3 448.1h0M377.7 448.2h0M370.5 448.6h0M381.1 448.3h0M378.5 448.5h0M362.7 449.2h0M385.8 448.9h0M388.6 449.2h0M388.1 449.4h0M368.5 449.6h0M374.3 449.3h0M385.9 450.2h0M384.0 449.9h0M363.1 450.2h0M388.1 450.7h0M374.5 450.7h0M380.6 450.8h0M367.7 450.8h0M377.8 450.9h0M372.5 451.3h0M377.3 451.5h0M379.0 451.4h0M388.1 452.2h0M388.1 452.0h0M367.2 452.0h0M388.5 452.3h0M377.5 452.6h0M381.8 452.6h0M381.3 452.9h0M367.2 452.9h0M372.4 453.2h0M377.0 453.5h0M383.8 453.5h0M371.8 453.4h0M370.1 454.0h0M377.5 454.1h0M374.4 454.0h0M380.2 454.5h0M372.2 454.3h0M388.1 454.4h0M370.8 454.9h0M362.8 455.1h0M365.1 455.7h0M377.7 455.3h0M364.0 455.6h0M362.6 456.0h0M378.2 456.1h0M373.7 456.1h0M386.3 456.5h0M379.6 456.5h0M379.5 456.7h0M383.3 456.9h0M367.0 457.0h0M373.5 457.0h0M380.6 457.4h0M379.7 457.5h0M377.9 457.3h0M386.0 458.0h0M369.0 458.1h0M381.9 457.8h0M380.4 458.5h0M384.9 458.3h0M380.3 458.4h0M374.5 459.2h0M375.8 458.8h0M384.5 458.8h0M377.0 459.4h0M379.2 459.5h0M384.4 459.6h0M385.2 460.2h0M371.9 459.9h0M385.2 460.1h0M382.3 460.4h0M379.6 460.4h0M366.9 460.7h0M382.8 461.1h0M379.4 461.0h0M367.7 461.4h0M378.5 461.4h0M384.1 461.7h0M366.2 462.2h0M382.3 462.0h0M376.6 461.9h0M378.5 462.5h0M374.8 462.3h0M380.5 462.5h0M382.6 463.2h0M386.3 463.2h0M380.2 463.0h0M380.0 463.4h0M377.5 463.6h0M379.0 463.5h0M367.7 464.1h0M378.6 463.9h0M379.1 464.2h0M370.2 464.3h0M381.1 464.4h0M384.3 464.6h0M377.6 464.9h0M378.0 465.2h0M373.6 465.2h0M363.4 465.7h0M365.1 465.4h0M381.5 465.4h0M364.8 466.1h0M367.6 465.9h0M369.7 466.2h0M371.6 466.4h0M376.7 466.5h0M380.7 466.4h0M381.3 467.2h0M384.4 467.0h0M377.5 466.9h0M378.9 467.0h0M366.5 467.5h0M378.2 467.5h0M377.3 467.7h0M377.9 467.9h0M367.7 468.1h0M382.7 468.0h0M371.1 468.1h0M386.4 468.7h0M365.1 468.7h0M359.0 468.7h0M380.2 469.1h0M368.5 468.9h0M363.9 468.9h0M382.8 469.5h0M380.9 469.3h0M385.1 469.7h0M375.9 469.4h0M380.2 470.2h0M369.8 470.1h0M380.1 469.9h0M372.4 470.4h0M384.7 470.4h0M380.7 470.6h0M358.8 471.1h0M361.0 471.2h0M362.4 470.8h0M359.2 471.0h0M365.4 471.4h0M373.9 471.6h0M362.5 471.4h0M379.7 472.2h0M370.3 471.9h0M365.5 472.2h0M378.7 472.5h0M371.5 472.5h0M357.5 472.7h0M359.7 472.6h0M383.9 473.2h0M369.8 473.1h0M378.7 473.1h0M376.8 473.0h0M365.1 473.7h0M375.0 473.6h0M359.4 473.4h0M364.3 474.2h0M377.8 473.9h0M378.2 474.1h0M380.1 474.7h0M381.7 474.3h0M383.1 474.4h0M373.9 475.1h0M369.4 475.2h0M377.7 475.0h0M368.3 475.5h0M383.9 475.4h0M385.1 475.6h0M363.9 476.0h0M385.0 475.9h0M382.4 475.8h0M372.1 476.3h0M367.4 476.7h0M365.3 476.7h0M371.5 477.1h0M369.6 476.9h0M376.4 477.0h0M358.8 477.3h0M363.2 477.6h0M370.0 477.3h0M367.9 477.8h0M368.1 477.8h0M374.1 478.1h0M362.7 478.5h0M363.6 478.3h0M381.9 478.6h0M370.6 478.9h0M379.9 478.8h0M377.0 479.0h0M371.5 479.6h0M367.5 479.5h0M382.2 479.6h0M383.2 480.2h0M363.0 480.1h0M378.7 479.8h0M366.2 480.6h0M375.1 480.3h0M381.5 480.7h0M377.8 480.8h0M380.3 480.9h0M378.0 480.9h0M377.6 481.7h0M369.4 481.5h0M368.6 481.4h0M380.3 482.2h0M381.6 482.1h0M377.7 482.7h0M366.1 482.5h0M383.0 482.7h0M381.6 483.1h0M380.9 483.1h0M379.6 483.0h0M382.2 483.4h0M363.6 483.7h0M377.2 483.6h0M375.1 483.8h0M374.7 483.9h0M359.8 484.1h0M382.9 484.6h0M376.8 484.6h0M381.4 484.3h0M366.3 485.0h0M377.7 484.8h0M380.7 485.1h0M381.9 485.3h0M382.6 485.3h0M380.4 485.6h0M358.5 485.8h0M372.6 486.1h0M362.9 486.1h0M381.3 486.6h0M365.1 486.6h0M378.6 486.3h0M377.0 487.1h0M378.0 487.0h0M358.1 487.1h0M377.5 487.5h0M374.8 487.6h0M367.8 487.3h0M378.1 488.2h0M374.2 488.2h0M372.5 487.8h0M359.8 488.4h0M378.2 488.7h0M378.3 488.5h0M359.1 488.9h0M357.7 489.2h0M379.0 488.8h0M378.7 489.4h0M374.8 489.4h0M361.1 489.6h0M358.3 490.0h0M363.9 490.0h0M363.9 490.0h0M377.3 490.4h0M380.3 490.7h0M364.6 490.5h0M372.5 491.0h0M379.3 490.8h0M361.3 490.8h0M368.2 491.4h0M379.2 491.5h0M381.9 491.5h0M367.3 492.0h0M364.2 492.1h0M364.2 492.1h0M374.3 492.3h0M376.4 492.6h0M360.6 492.7h0M362.6 493.1h0M380.1 492.9h0M359.2 492.8h0M380.9 493.0h0M379.5 493.6h0M361.1 493.3h0M369.7 493.5h0M374.4 493.3h0M366.0 493.9h0M359.9 494.1h0M372.2 494.1h0M369.4 494.4h0M362.5 494.4h0M365.8 494.7h0M374.3 495.1h0M380.6 495.2h0M364.4 495.2h0M378.7 495.5h0M380.3 495.3h0M359.5 495.5h0M367.1 495.9h0M368.4 496.0h0M379.1 496.2h0M367.9 496.3h0M363.5 496.6h0M369.1 496.3h0M369.9 497.2h0M363.0 496.9h0M376.3 496.8h0M358.1 497.3h0M364.5 497.3h0M373.1 497.3h0M375.8 497.9h0M379.6 498.2h0M368.6 497.8h0M359.4 497.8h0M359.9 498.4h0M372.1 498.4h0M365.3 498.3h0M356.1 498.6h0M370.6 499.0h0M365.4 498.8h0M357.8 498.9h0M362.7 499.1h0M367.6 499.5h0M374.1 499.5h0M359.1 499.6h0M363.5 499.3h0M378.3 500.2h0M376.9 499.9h0M378.2 500.0h0M379.6 500.0h0M373.0 500.3h0M380.1 500.7h0M360.7 500.4h0M379.5 501.0h0M376.3 501.2h0M363.3 501.0h0M378.8 501.6h0M375.8 501.6h0M372.5 501.5h0M359.9 501.9h0M375.6 501.8h0M356.2 502.0h0M362.8 502.5h0M370.3 502.4h0M362.9 502.7h0M373.0 502.9h0M357.6 502.8h0M358.6 503.1h0M369.6 503.4h0M357.4 503.5h0M367.2 503.4h0M370.7 503.9h0M379.6 503.8h0M358.6 504.1h0M378.4 504.4h0M359.3 504.4h0M379.2 504.4h0M380.1 504.9h0M375.9 504.8h0M355.4 504.9h0M366.8 505.4h0M378.7 505.5h0M376.1 505.3h0M375.0 505.8h0M379.9 505.8h0M358.4 505.8h0M353.9 505.8h0M358.3 506.7h0M371.1 506.6h0M379.6 506.7h0M376.4 506.8h0M367.2 507.0h0M380.1 507.0h0M378.9 507.5h0M379.4 507.3h0M378.1 507.7h0M374.7 507.8h0M357.3 508.0h0M365.3 508.0h0M364.1 507.8h0M372.9 508.6h0M365.6 508.3h0M369.4 508.5h0M361.8 509.0h0M377.4 508.9h0M366.0 509.2h0M366.7 509.5h0M366.1 509.3h0M367.1 509.4h0M355.7 509.4h0M369.7 510.0h0M372.5 510.0h0M371.3 510.2h0M373.7 510.2h0M377.5 510.5h0M374.6 510.5h0M354.6 510.7h0M359.8 510.3h0M361.0 510.9h0M369.2 511.0h0M369.1 511.2h0M379.1 511.4h0M378.3 511.5h0M370.6 511.7h0M377.1 511.7h0M371.5 512.1h0M371.0 512.2h0M370.5 512.0h0M379.7 512.6h0M367.7 512.7h0M368.5 512.4h0M357.4 512.3h0M366.3 513.1h0M356.9 513.0h0M371.4 512.9h0M356.4 512.9h0M359.3 513.6h0M358.4 513.7h0M377.3 513.4h0M376.5 513.9h0M374.1 514.1h0M360.6 514.0h0M368.1 514.4h0M367.6 514.7h0M357.1 514.5h0M362.7 514.4h0M357.5 515.0h0M377.9 514.9h0M361.6 515.0h0M369.4 515.3h0M366.4 515.5h0M358.3 515.6h0M366.4 516.1h0M365.0 516.1h0M377.9 516.0h0M371.2 516.4h0M371.4 516.3h0M377.4 516.4h0M373.2 516.5h0M368.2 516.9h0M360.7 517.0h0M368.7 516.9h0M365.1 517.4h0M370.1 517.7h0M370.3 517.7h0M352.0 517.3h0M379.0 518.2h0M373.4 518.2h0M372.7 517.9h0M365.7 518.5h0M353.0 518.6h0M370.5 518.3h0M353.7 518.7h0M361.7 519.2h0M368.9 518.8h0M366.5 519.0h0M350.6 519.3h0M352.9 519.6h0M379.1 519.7h0M357.1 519.5h0M369.1 520.0h0M367.1 520.2h0M364.0 519.8h0M359.5 519.8h0M353.5 520.7h0M376.7 520.5h0M364.2 520.4h0M365.6 520.5h0M367.9 520.8h0M375.9 521.0h0M371.8 521.1h0M361.0 521.1h0M367.6 521.4h0M369.1 521.5h0M361.3 521.6h0M365.6 522.1h0M361.9 521.9h0M365.3 522.2h0M369.1 522.6h0M364.5 522.6h0M354.1 522.5h0M365.6 522.9h0M357.2 522.8h0M378.1 522.9h0M375.7 523.2h0M378.3 523.5h0M366.9 523.4h0M357.5 523.4h0M373.8 524.0h0M365.1 524.1h0M359.7 523.8h0M356.8 523.9h0M361.5 524.6h0M353.3 524.7h0M360.2 524.3h0M377.9 525.1h0M363.9 524.9h0M360.6 525.1h0M368.1 525.3h0M377.7 525.7h0M357.0 525.5h0M374.2 525.3h0M371.7 526.1h0M355.0 525.8h0M375.8 526.0h0M360.7 526.5h0M363.0 526.7h0M378.0 526.7h0M354.0 527.0h0M372.0 527.2h0M372.4 526.8h0M375.7 527.6h0M371.0 527.5h0M376.9 527.5h0M366.5 527.8h0M377.7 528.0h0M364.8 527.8h0M376.5 528.7h0M365.2 528.3h0M363.4 528.7h0M369.2 529.2h0M368.7 529.0h0M363.3 528.9h0M377.2 528.9h0M370.1 529.4h0M374.7 529.6h0M363.6 529.5h0M364.7 530.2h0M360.2 529.8h0M374.1 530.2h0M375.9 530.6h0M366.0 530.7h0M370.6 530.4h0M374.6 530.7h0M371.2 530.8h0M373.3 530.8h0M353.8 530.9h0M371.5 531.4h0M375.9 531.4h0M363.0 531.6h0M370.7 532.0h0M359.4 532.0h0M372.5 531.8h0M370.7 532.6h0M375.6 532.4h0M363.4 532.4h0M371.6 532.6h0M373.7 533.2h0M368.0 533.1h0M359.2 533.1h0M351.9 533.7h0M375.3 533.7h0M370.1 533.5h0M361.5 534.0h0M375.0 533.8h0M364.2 534.0h0M367.9 534.3h0M375.1 534.5h0M360.2 534.4h0M363.3 535.1h0M362.8 534.9h0M364.4 535.1h0M369.7 535.1h0M355.7 535.6h0M371.7 535.5h0M355.5 535.7h0M362.2 535.8h0M351.6 536.1h0M370.8 535.8h0M376.6 536.1h0M373.3 536.3h0M370.4 536.3h0M375.3 536.5h0M363.4 536.5h0M372.7 536.8h0M362.7 537.0h0M368.9 536.8h0M366.3 537.1h0M351.5 537.6h0M376.0 537.6h0M352.4 537.3h0M374.3 537.3h0M359.9 537.8h0M371.6 538.1h0M352.0 538.2h0M355.9 538.1h0M364.0 538.6h0M367.8 538.4h0M371.7 538.5h0M374.5 538.9h0M359.2 538.9h0M361.2 538.8h0M375.3 539.0h0M354.1 539.5h0M365.1 539.6h0M352.5 539.3h0M364.7 539.5h0M353.5 540.0h0M359.7 540.2h0M349.7 539.8h0M359.2 540.2h0M405.0 202.5h0M406.3 212.7h0M411.6 215.2h0M416.0 218.0h0M401.0 216.0h0M396.0 217.0h0M524.0 329.9h0M526.2 331.1h0M526.0 331.3h0M525.9 331.8h0M525.5 333.5h0M525.3 334.1h0M526.1 335.1h0M523.7 335.3h0M523.8 336.8h0M524.2 338.6h0M521.6 339.6h0M523.6 340.3h0M520.7 341.1h0M525.5 341.3h0M523.3 342.0h0M525.0 342.6h0M523.6 343.5h0M520.5 344.2h0M522.8 344.7h0M525.4 345.0h0M520.9 345.5h0M526.2 345.8h0M522.0 346.7h0M522.7 347.1h0M518.2 347.3h0M523.6 348.2h0M523.0 348.3h0M525.8 348.9h0M523.1 349.7h0M525.5 349.6h0M524.7 350.1h0M523.5 350.7h0M524.2 350.6h0M522.7 350.9h0M522.8 351.6h0M523.7 352.1h0M520.0 352.5h0M519.7 353.1h0M524.0 353.5h0M522.8 353.8h0M521.8 354.3h0M520.3 355.1h0M525.1 355.7h0M518.7 355.9h0M518.9 356.7h0M521.9 356.8h0M517.7 357.4h0M524.2 358.2h0M520.3 358.4h0M517.3 358.9h0M518.2 359.7h0M520.7 359.7h0M520.8 359.9h0M521.8 360.3h0M518.5 360.7h0M521.8 361.2h0M521.1 361.4h0M519.2 361.8h0M516.1 362.5h0M521.5 362.8h0M516.2 363.0h0M523.2 363.6h0M517.6 364.2h0M520.5 364.4h0M519.0 365.0h0M516.5 365.5h0M516.3 366.1h0M522.6 366.5h0M521.5 367.0h0M514.8 367.4h0M516.5 368.0h0M520.7 368.4h0M522.1 368.9h0M516.6 368.8h0M515.6 369.5h0M517.3 369.9h0M521.3 370.4h0M520.8 370.9h0M523.9 371.7h0M519.2 371.9h0M524.3 372.7h0M519.6 372.6h0M519.2 372.9h0M520.5 373.3h0M520.4 373.7h0M524.9 374.2h0M521.0 374.6h0M522.0 374.4h0M523.7 375.1h0M515.5 375.6h0M515.1 375.4h0M516.3 376.2h0M524.1 376.3h0M516.0 376.9h0M523.3 376.8h0M524.3 377.7h0M521.7 378.1h0M517.2 378.3h0M522.2 379.1h0M516.5 379.1h0M515.5 379.5h0M523.2 379.5h0M519.8 379.9h0M519.8 380.2h0M515.6 380.3h0M521.0 381.0h0M521.5 381.5h0M518.9 381.4h0M514.8 381.9h0M522.7 382.5h0M513.1 383.1h0M515.9 383.2h0M516.1 383.5h0M523.0 383.3h0M521.9 383.8h0M515.4 383.9h0M519.8 384.3h0M522.0 384.3h0M521.6 385.1h0M522.1 385.6h0M519.8 386.0h0M513.4 386.1h0M515.6 386.5h0M522.2 386.3h0M513.3 387.1h0M522.7 387.0h0M523.1 387.5h0M518.3 388.2h0M521.1 387.9h0M513.5 388.7h0M516.6 389.0h0M521.7 389.6h0M517.8 389.6h0M519.7 390.2h0M512.8 390.0h0M516.3 390.7h0M521.7 391.1h0M518.5 390.9h0M517.9 391.5h0M515.2 391.6h0M522.3 391.9h0M515.3 391.8h0M518.8 392.5h0M516.0 393.0h0M519.2 393.2h0M517.1 393.6h0M516.4 393.5h0M516.6 394.2h0M520.5 394.3h0M518.1 394.4h0M522.0 395.2h0M515.0 395.5h0M520.0 395.9h0M516.5 396.0h0M521.8 396.7h0M513.1 396.3h0M519.3 396.9h0M513.7 397.1h0M520.7 397.6h0M518.4 397.9h0M514.3 398.2h0M514.3 398.4h0M510.1 398.9h0M514.1 399.5h0M510.9 399.5h0M512.4 400.0h0M515.5 400.1h0M509.6 400.6h0M518.9 400.4h0M521.8 401.1h0M510.6 400.9h0M520.5 401.7h0M522.3 401.3h0M516.2 401.8h0M515.7 402.0h0M517.9 402.6h0M515.0 402.7h0M512.1 403.0h0M517.7 403.0h0M518.6 403.6h0M513.0 403.3h0M516.3 404.0h0M522.7 404.4h0M522.5 404.4h0M521.8 405.1h0M514.0 405.4h0M515.2 405.4h0M522.2 405.8h0M513.4 406.1h0M512.2 406.4h0M519.4 406.9h0M513.0 407.1h0M522.2 407.3h0M520.5 407.4h0M517.9 408.2h0M510.1 408.0h0M510.2 408.5h0M518.9 408.7h0M514.3 408.9h0M521.1 408.8h0M518.5 409.5h0M521.8 409.5h0M521.0 409.9h0M517.4 409.9h0M514.5 410.7h0M519.2 410.3h0M519.7 410.9h0M510.1 411.2h0M514.3 411.6h0M518.3 411.6h0M515.6 411.9h0M514.5 411.9h0M513.3 412.7h0M520.1 412.3h0M520.4 413.1h0M520.7 412.8h0M510.1 413.5h0M513.1 413.3h0M509.5 413.8h0M515.8 414.2h0M510.2 414.6h0M521.1 414.4h0M514.4 414.9h0M511.0 415.2h0M520.8 415.6h0M510.6 415.9h0M518.5 415.9h0M515.5 416.5h0M519.9 416.7h0M517.1 416.8h0M511.5 417.3h0M519.9 418.0h0M516.1 418.1h0M519.3 418.5h0M510.4 418.5h0M519.5 418.8h0M517.6 419.4h0M516.8 419.3h0M517.2 420.0h0M516.4 420.0h0M518.8 420.6h0M514.2 420.4h0M512.6 420.8h0M517.9 421.3h0M518.1 422.0h0M519.5 421.9h0M515.6 422.3h0M518.5 422.7h0M514.6 423.0h0M512.8 423.1h0M517.8 423.4h0M515.5 423.4h0M511.8 423.8h0M513.7 424.0h0M516.5 424.5h0M518.3 424.4h0M519.0 425.0h0M518.2 425.2h0M512.7 425.5h0M514.2 425.8h0M519.2 426.6h0M517.1 426.4h0M517.9 426.8h0M516.7 427.4h0M514.0 427.3h0M514.1 428.1h0M513.6 427.9h0M515.7 428.5h0M517.0 428.7h0M517.5 428.9h0M518.3 429.7h0M512.8 429.6h0M513.0 430.1h0M514.8 430.1h0M515.9 430.5h0M518.3 431.1h0M518.1 431.2h0M512.0 431.7h0M515.6 431.3h0M511.8 432.0h0M515.3 432.6h0M510.0 433.1h0M516.5 433.1h0M518.3 433.4h0M512.3 433.3h0M510.6 433.9h0M509.4 434.2h0M519.1 434.5h0M514.7 434.7h0M517.5 434.9h0M517.1 435.0h0M517.3 435.6h0M516.0 436.1h0M511.9 436.1h0M517.0 436.3h0M516.7 436.4h0M517.1 436.9h0M514.6 437.2h0M514.7 437.5h0M517.7 437.6h0M511.0 437.8h0M519.2 438.0h0M516.0 438.7h0M515.5 439.1h0M518.5 438.8h0M514.6 439.3h0M515.1 439.3h0M518.9 440.2h0M515.9 440.2h0M516.5 440.6h0M517.8 440.7h0M515.4 441.1h0M513.4 441.2h0M518.0 441.5h0M512.5 441.4h0M509.9 441.9h0M515.8 441.8h0M515.2 442.7h0M514.0 442.8h0M513.2 443.7h0M508.9 443.3h0M518.3 443.8h0M514.5 443.9h0M510.5 444.4h0M510.9 444.5h0M509.9 445.2h0M514.4 444.8h0M516.3 445.7h0M518.4 445.3h0M508.9 445.8h0M511.0 446.0h0M517.5 446.7h0M518.3 446.3h0M518.2 447.2h0M514.3 447.7h0M517.4 447.4h0M512.6 448.1h0M516.5 448.0h0M513.2 448.7h0M511.1 448.4h0M514.6 449.2h0M516.7 449.2h0M509.9 449.3h0M518.4 449.7h0M514.7 449.9h0M510.9 450.1h0M510.2 450.4h0M509.7 450.4h0M516.0 451.2h0M515.1 451.7h0M513.2 451.8h0M516.2 452.2h0M510.9 452.5h0M509.2 452.9h0M513.1 453.1h0M517.6 453.6h0M517.2 453.4h0M517.5 453.9h0M509.5 453.8h0M518.3 454.7h0M516.6 454.5h0M517.4 455.0h0M511.3 454.9h0M518.6 455.3h0M510.2 455.4h0M513.9 456.1h0M512.1 456.3h0M514.6 456.3h0M509.7 457.2h0M517.1 456.8h0M511.9 457.5h0M510.0 457.3h0M509.2 457.8h0M516.6 458.0h0M516.0 458.6h0M515.2 458.4h0M514.5 459.1h0M515.3 459.0h0M509.6 459.5h0M508.5 459.3h0M508.5 460.1h0M515.8 460.2h0M513.0 460.3h0M509.9 461.1h0M508.3 461.6h0M513.3 461.4h0M509.9 462.2h0M513.3 462.7h0M509.6 462.6h0M514.6 462.8h0M509.9 463.3h0M508.7 463.3h0M512.7 464.2h0M508.0 464.5h0M510.3 464.7h0M512.0 465.0h0M511.8 465.7h0M513.4 465.9h0M512.7 466.7h0M510.6 467.1h0M508.6 467.0h0M510.7 467.3h0M512.1 467.6h0M512.9 468.2h0M510.2 468.2h0M514.3 468.5h0M507.8 468.3h0M512.6 469.0h0M514.1 469.4h0M514.2 470.2h0M509.9 470.1h0M508.3 470.4h0M514.0 470.5h0M513.5 471.1h0M514.7 470.9h0M512.3 471.3h0M513.1 472.0h0M513.7 471.8h0M513.0 472.7h0M511.5 473.2h0M509.8 472.9h0M513.7 473.7h0M513.3 473.9h0M515.0 474.7h0M514.9 474.6h0M515.6 474.9h0M515.6 474.8h0M509.9 475.3h0M514.6 476.1h0M516.0 476.3h0M511.5 476.5h0M510.0 477.2h0M514.1 477.1h0M510.2 477.7h0M510.9 477.4h0M509.9 478.1h0M512.1 478.0h0M510.2 478.4h0M511.9 478.5h0M516.7 479.2h0M512.7 479.0h0M516.7 479.7h0M511.6 479.4h0M510.2 480.0h0M512.5 480.3h0M510.1 480.3h0M513.3 481.2h0M516.4 480.8h0M508.7 481.4h0M510.6 481.6h0M510.5 482.1h0M510.0 482.1h0M516.6 482.4h0M515.4 482.3h0M514.7 482.8h0M514.8 483.2h0M515.1 483.7h0M508.4 483.4h0M514.6 484.0h0M512.8 484.6h0M516.4 484.5h0M509.2 485.1h0M514.4 484.8h0M515.1 485.7h0M514.7 485.4h0M508.3 486.1h0M510.9 486.2h0M516.7 486.7h0M514.9 487.0h0M514.5 487.1h0M516.1 487.7h0M512.7 487.4h0M514.6 488.2h0M515.3 488.4h0M509.2 488.3h0M511.9 488.8h0M515.7 489.0h0M510.8 489.7h0M508.0 489.3h0M515.0 490.0h0M513.2 490.7h0M515.3 490.3h0M512.1 491.0h0M506.5 491.1h0M509.1 491.4h0M511.1 492.2h0M506.1 492.1h0M506.6 492.4h0M513.1 492.6h0M509.4 493.0h0M506.6 493.2h0M514.1 493.3h0M513.5 493.4h0M511.0 494.0h0M511.1 493.8h0M510.9 494.5h0M512.7 494.6h0M506.8 494.8h0M510.6 495.6h0M509.0 496.1h0M509.4 495.8h0M511.6 496.5h0M510.1 496.7h0M510.7 496.8h0M507.8 497.4h0M512.0 497.5h0M509.6 497.8h0M507.8 498.0h0M513.2 498.7h0M512.5 498.4h0M507.6 499.2h0M510.4 499.0h0M511.2 499.4h0M508.0 499.9h0M507.3 500.2h0M509.7 500.7h0M510.1 500.6h0M513.3 500.9h0M511.6 501.0h0M510.6 501.3h0M512.7 501.6h0M512.4 501.9h0M511.2 502.0h0M506.0 502.3h0M511.4 503.1h0M510.1 503.5h0M510.0 503.4h0M508.8 503.8h0M506.9 504.0h0M510.3 504.4h0M511.0 504.7h0M511.7 505.0h0M506.3 505.0h0M508.8 505.5h0M509.3 505.6h0M511.4 506.2h0M511.7 506.1h0M511.3 506.4h0M512.6 507.2h0M510.8 507.4h0M510.6 507.9h0M506.7 508.0h0M508.3 508.7h0M509.5 508.5h0M511.3 509.2h0M512.3 508.8h0M512.9 509.7h0M508.3 510.0h0M512.9 510.0h0M506.3 510.4h0M508.6 510.5h0M507.9 511.0h0M511.5 511.0h0M506.9 511.4h0M509.7 511.8h0M510.8 511.8h0M512.6 512.7h0M505.3 513.0h0M505.3 513.6h0M512.4 513.7h0M511.8 513.9h0M511.1 514.3h0M509.9 514.4h0M508.5 515.1h0M505.1 515.0h0M511.3 515.3h0M506.2 515.7h0M506.2 516.1h0M508.9 515.9h0M508.1 516.4h0M504.9 516.3h0M510.4 516.8h0M512.3 517.2h0M507.5 517.7h0M508.3 517.5h0M510.7 518.2h0M509.5 518.2h0M505.3 518.5h0M507.7 519.0h0M505.3 519.3h0M511.4 519.6h0M508.1 520.1h0M507.2 520.0h0M505.0 520.7h0M512.5 520.3h0M507.1 520.9h0M506.8 521.2h0M512.7 521.3h0M510.8 521.7h0M511.2 522.1h0M510.2 522.1h0M508.1 522.6h0M511.4 522.5h0M505.1 523.1h0M508.2 523.0h0M509.9 523.7h0M511.1 523.9h0M510.2 523.9h0M509.2 524.4h0M512.1 525.2h0M506.1 525.2h0M511.3 525.4h0M506.5 526.1h0M507.4 526.5h0M511.1 526.6h0M506.2 527.1h0M512.0 527.2h0M512.1 527.6h0M511.4 527.7h0M506.6 528.1h0M508.4 528.4h0M508.3 528.6h0M506.0 529.0h0M507.0 529.7h0M511.5 529.8h0M508.8 529.8h0M508.8 530.7h0M510.8 530.3h0M509.1 531.2h0M510.6 531.4h0M511.7 532.1h0M506.9 532.1h0M504.2 532.4h0M507.9 532.3h0M512.1 533.2h0M507.3 532.9h0M505.0 533.7h0M511.4 533.3h0M509.3 533.8h0M513.0 533.8h0M511.4 534.4h0M512.6 534.5h0M507.1 534.4h0M506.9 534.9h0M511.7 534.9h0M513.2 535.3h0M506.4 535.7h0M504.7 536.1h0M507.6 536.0h0M508.9 536.4h0M502.9 536.7h0M508.1 536.8h0M503.2 537.0h0M512.2 537.6h0M505.0 537.4h0M503.0 538.1h0M511.1 538.0h0M503.6 538.4h0M511.6 538.3h0M504.6 539.0h0M510.2 538.8h0M502.6 539.3h0M511.7 539.6h0M511.0 540.2h0M512.8 540.2h0M524.4 327.6h0M515.3 347.0h0M526.0 329.5h0M690.0 274.9h0M684.9 275.0h0M680.9 275.4h0M682.4 275.8h0M684.1 276.4h0M687.4 276.9h0M683.2 277.5h0M683.8 278.2h0M687.4 277.9h0M684.3 278.5h0M682.5 278.8h0M680.3 278.9h0M681.6 279.7h0M685.2 279.4h0M685.8 280.0h0M680.5 279.9h0M682.4 280.7h0M689.6 280.6h0M685.7 280.9h0M685.0 281.0h0M679.9 281.3h0M689.0 282.0h0M685.4 282.4h0M683.0 283.2h0M682.9 283.3h0M686.6 283.3h0M686.6 283.9h0M682.7 284.0h0M684.5 284.6h0M685.5 284.6h0M679.3 285.1h0M682.9 285.0h0M680.0 285.6h0M678.5 286.2h0M676.6 285.9h0M686.7 286.5h0M680.7 287.2h0M684.4 286.8h0M686.4 287.3h0M681.9 288.0h0M682.5 288.0h0M687.9 288.4h0M679.1 289.2h0M689.4 288.8h0M686.2 289.3h0M682.4 289.3h0M680.4 290.2h0M678.2 289.9h0M684.3 290.6h0M687.8 290.8h0M689.1 291.6h0M687.9 292.1h0M688.7 291.8h0M688.2 292.5h0M684.3 293.2h0M680.9 293.7h0M683.9 293.7h0M689.8 294.1h0M687.9 294.4h0M679.2 295.1h0M680.5 295.1h0M686.9 295.7h0M683.9 296.1h0M686.1 296.6h0M683.8 296.4h0M676.9 297.1h0M682.9 296.8h0M680.9 297.4h0M689.5 297.7h0M684.6 297.8h0M689.6 298.7h0M690.2 298.7h0M681.3 299.2h0M684.5 299.4h0M684.9 300.2h0M686.9 300.3h0M678.5 300.7h0M682.1 301.2h0M687.8 301.1h0M686.8 301.6h0M674.8 301.6h0M681.3 301.9h0M687.5 302.4h0M678.8 302.5h0M681.1 302.9h0M679.8 303.2h0M680.0 303.6h0M688.3 303.6h0M678.9 304.1h0M686.6 304.0h0M686.3 304.7h0M684.1 304.7h0M679.9 305.1h0M686.5 305.7h0M679.3 305.4h0M675.1 305.9h0M685.4 306.7h0M684.3 306.9h0M678.9 307.0h0M685.0 307.4h0M684.7 307.3h0M686.1 308.0h0M687.2 308.3h0M677.0 309.1h0M677.2 309.0h0M687.1 309.4h0M681.6 310.2h0M679.2 310.0h0M686.0 310.4h0M680.7 310.4h0M678.2 310.9h0M682.4 310.9h0M684.9 311.5h0M686.5 311.8h0M682.0 312.0h0M679.6 312.6h0M685.9 313.2h0M686.0 313.7h0M681.9 313.5h0M678.1 313.8h0M685.1 314.2h0M678.0 314.4h0M686.1 314.3h0M680.4 314.8h0M680.9 315.0h0M674.8 315.4h0M683.6 315.7h0M678.0 316.1h0M680.6 316.2h0M680.4 316.3h0M682.7 317.1h0M682.8 317.5h0M685.1 317.4h0M683.3 318.0h0M681.4 318.0h0M675.8 318.5h0M678.7 319.2h0M685.5 319.4h0M684.6 320.0h0M685.4 319.9h0M683.9 320.3h0M684.2 320.5h0M685.2 321.1h0M681.6 321.2h0M677.2 321.3h0M682.6 321.4h0M683.6 321.9h0M683.5 322.6h0M680.4 322.6h0M684.0 323.1h0M683.7 323.1h0M682.8 323.5h0M675.2 323.3h0M684.1 323.9h0M679.3 324.1h0M685.4 324.3h0M682.4 324.6h0M679.6 325.2h0M682.9 325.7h0M675.2 325.3h0M680.3 325.8h0M675.7 326.2h0M678.8 326.5h0M680.8 327.2h0M674.5 327.3h0M676.1 327.7h0M682.4 328.2h0M685.1 328.5h0M674.8 328.8h0M679.7 329.1h0M684.6 329.3h0M684.3 329.7h0M682.0 329.9h0M680.8 330.0h0M684.5 330.4h0M677.9 330.9h0M683.4 331.0h0M674.7 331.4h0M676.2 331.4h0M684.7 332.2h0M684.8 332.3h0M685.0 333.1h0M683.4 332.9h0M677.8 333.5h0M678.1 333.4h0M684.7 333.9h0M684.0 333.9h0M685.7 334.4h0M683.4 334.6h0M678.9 335.2h0M683.3 334.9h0M682.5 335.3h0M678.2 336.1h0M684.9 336.0h0M681.7 336.3h0M680.8 336.7h0M678.2 337.1h0M684.2 336.9h0M683.4 337.3h0M685.9 337.8h0M675.7 338.4h0M673.9 338.3h0M682.6 339.2h0M673.6 339.1h0M678.9 339.4h0M684.4 340.2h0M673.3 339.9h0M684.7 340.5h0M681.3 341.2h0M676.3 341.2h0M677.9 341.6h0M682.3 341.8h0M677.3 342.4h0M679.8 342.8h0M681.5 343.1h0M679.0 343.4h0M676.5 344.0h0M679.9 344.7h0M682.3 344.5h0M678.2 345.0h0M676.6 345.6h0M678.4 345.7h0M674.4 346.2h0M677.5 346.2h0M681.0 346.5h0M682.5 346.4h0M681.1 347.2h0M677.1 347.1h0M679.7 347.4h0M682.4 348.0h0M679.3 348.4h0M677.8 348.3h0M675.4 348.9h0M675.6 349.1h0M682.9 349.4h0M680.5 349.4h0M680.4 350.2h0M682.5 350.1h0M676.3 350.5h0M676.5 350.4h0M679.1 350.9h0M674.3 351.2h0M677.5 351.5h0M676.3 351.8h0M676.6 352.6h0M674.7 353.0h0M676.6 352.8h0M674.2 353.5h0M680.3 353.3h0M681.6 353.8h0M674.8 354.1h0M682.3 354.4h0M675.1 354.5h0M678.4 355.2h0M681.0 355.5h0M681.9 355.4h0M673.2 356.0h0M678.5 356.3h0M672.6 356.5h0M674.0 356.9h0M679.2 357.0h0M674.4 357.6h0M681.4 357.4h0M677.6 358.1h0M680.4 358.6h0M672.4 358.8h0M673.6 358.9h0M679.1 359.7h0M676.8 360.0h0M671.8 360.2h0M674.8 360.7h0M674.7 360.4h0M677.4 361.1h0M679.1 361.3h0M680.8 361.3h0M680.8 361.8h0M678.2 362.2h0M678.4 362.7h0M676.8 363.0h0M679.6 362.9h0M679.1 363.6h0M679.5 363.4h0M678.7 363.9h0M679.4 364.6h0M684.0 365.2h0M681.6 365.4h0M678.1 365.5h0M679.2 365.8h0M676.0 365.8h0M677.4 366.5h0M681.5 366.9h0M674.2 367.0h0M674.0 367.3h0M678.0 367.9h0M680.2 368.4h0M682.2 368.6h0M672.6 369.1h0M672.7 369.6h0M673.6 369.4h0M678.5 370.1h0M681.8 370.1h0M678.9 370.4h0M681.6 370.7h0M682.2 371.2h0M678.1 371.0h0M681.1 371.6h0M680.9 371.7h0M671.0 372.0h0M678.9 372.2h0M674.8 372.5h0M679.5 373.1h0M675.7 373.7h0M680.7 373.8h0M680.0 374.1h0M677.8 374.7h0M674.1 374.9h0M679.8 375.7h0M676.6 375.6h0M675.9 376.1h0M671.3 376.0h0M676.4 376.6h0M674.2 377.0h0M675.0 377.3h0M680.4 377.6h0M680.6 378.1h0M679.9 378.5h0M675.1 379.0h0M670.7 379.7h0M679.3 379.4h0M675.8 379.8h0M672.9 380.7h0M674.5 380.9h0M680.0 381.3h0M676.8 381.8h0M675.9 382.5h0M679.8 383.1h0M680.3 383.0h0M679.4 383.3h0M676.1 383.9h0M673.7 384.7h0M672.4 384.7h0M671.1 385.0h0M679.5 385.2h0M679.6 385.6h0M678.0 385.3h0M675.2 385.8h0M671.3 386.5h0M676.9 387.2h0M678.6 387.4h0M675.3 387.3h0M678.7 388.1h0M676.8 388.6h0M672.7 388.5h0M674.1 389.1h0M675.4 389.6h0M673.1 389.6h0M670.3 390.2h0M674.9 389.8h0M674.1 390.5h0M674.9 390.3h0M676.1 391.0h0M675.1 390.8h0M673.0 391.4h0M673.1 391.9h0M677.6 391.9h0M671.6 392.5h0M674.9 393.2h0M679.3 393.0h0M674.4 393.3h0M676.9 393.7h0M678.9 394.0h0M675.7 394.0h0M677.1 394.3h0M673.7 394.7h0M669.5 395.1h0M673.4 395.0h0M678.6 395.6h0M676.6 396.1h0M674.9 396.5h0M669.1 396.5h0M679.7 397.1h0M672.6 397.4h0M674.6 397.9h0M673.2 398.2h0M675.9 398.7h0M671.7 398.7h0M673.3 398.8h0M676.2 399.0h0M668.7 399.6h0M675.9 399.3h0M673.2 400.0h0M676.8 400.2h0M671.9 400.6h0M673.1 400.4h0M672.4 401.0h0M677.7 400.9h0M676.4 401.7h0M677.7 401.4h0M671.0 402.0h0M672.2 401.8h0M667.5 402.4h0M677.2 402.5h0M677.9 402.9h0M675.0 403.1h0M674.1 403.4h0M670.5 403.4h0M673.0 403.9h0M671.2 404.1h0M674.5 404.4h0M674.6 404.7h0M674.1 404.9h0M673.8 404.9h0M678.4 405.4h0M673.1 405.7h0M677.2 406.0h0M675.2 406.2h0M672.7 406.4h0M667.2 406.6h0M676.7 407.2h0M677.4 407.0h0M678.5 407.7h0M669.3 407.6h0M678.3 407.8h0M672.0 407.9h0M672.8 408.4h0M669.1 408.3h0M670.2 408.8h0M673.8 409.1h0M678.7 409.3h0M676.9 409.6h0M679.1 410.0h0M668.2 410.1h0M668.5 410.4h0M675.0 410.4h0M678.8 411.1h0M676.6 411.2h0M671.3 411.6h0M673.1 411.4h0M667.6 412.2h0M669.2 412.1h0M678.2 412.6h0M670.2 412.3h0M670.3 413.2h0M671.9 413.0h0M668.5 413.6h0M672.0 413.7h0M674.6 414.0h0M674.6 414.2h0M674.1 414.5h0M679.9 414.5h0M671.9 415.2h0M679.4 415.1h0M677.2 415.5h0M668.7 415.6h0M678.9 416.2h0M668.0 415.8h0M676.1 415.8h0M679.2 416.6h0M672.3 416.3h0M667.4 417.0h0M673.2 416.8h0M676.6 416.9h0M677.1 417.5h0M671.2 417.3h0M674.2 418.2h0M669.2 417.9h0M670.0 418.4h0M673.8 418.5h0M679.3 418.7h0M677.1 418.9h0M674.5 418.8h0M679.8 419.3h0M675.9 419.6h0M673.5 420.0h0M672.8 420.2h0M667.5 419.9h0M677.9 420.3h0M668.9 420.7h0M667.0 420.5h0M675.6 421.1h0M670.6 420.8h0M677.1 421.6h0M671.6 421.5h0M677.9 422.2h0M674.7 421.8h0M678.3 422.7h0M676.6 422.5h0M675.7 423.0h0M671.2 422.9h0M673.8 423.3h0M674.3 423.5h0M669.8 423.9h0M673.8 424.0h0M670.3 424.6h0M676.0 424.4h0M677.9 425.2h0M672.3 424.8h0M668.8 425.4h0M677.1 425.6h0M672.2 425.9h0M671.1 425.8h0M674.3 426.6h0M667.0 426.7h0M676.4 427.0h0M675.2 426.8h0M677.1 427.3h0M676.7 427.3h0M674.1 428.0h0M666.7 428.1h0M670.3 428.6h0M674.0 428.3h0M674.9 429.1h0M672.8 429.2h0M674.5 429.4h0M673.2 429.8h0M673.2 430.2h0M668.3 430.6h0M676.0 430.7h0M676.7 431.2h0M669.5 431.6h0M667.1 431.4h0M676.6 432.1h0M667.0 431.8h0M673.9 432.5h0M676.3 433.1h0M667.7 432.8h0M677.1 433.5h0M669.2 433.4h0M677.2 434.2h0M675.0 434.1h0M677.4 434.6h0M675.3 434.7h0M672.9 434.8h0M673.6 435.2h0M668.2 435.7h0M674.6 435.7h0M672.7 435.8h0M670.2 436.3h0M674.5 436.3h0M676.5 437.1h0M673.8 437.0h0M669.3 437.3h0M674.3 437.4h0M673.2 438.2h0M667.6 437.8h0M674.6 438.4h0M672.8 438.6h0M676.2 438.8h0M669.8 439.1h0M675.9 439.7h0M676.9 439.3h0M676.0 440.1h0M666.3 439.9h0M668.5 440.4h0M675.6 440.4h0M672.9 441.2h0M666.9 441.1h0M673.8 441.6h0M668.1 441.4h0M671.5 442.1h0M675.4 442.1h0M676.9 442.4h0M669.0 442.4h0M676.2 443.2h0M673.3 443.2h0M671.1 443.7h0M676.2 443.4h0M674.7 444.1h0M677.3 444.0h0M677.5 444.0h0M675.8 444.5h0M671.9 444.7h0M667.8 445.0h0M668.4 444.8h0M665.2 445.5h0M668.3 445.3h0M674.1 446.1h0M671.7 446.2h0M675.8 446.7h0M672.5 446.4h0M672.8 446.9h0M668.6 447.2h0M673.0 447.3h0M671.2 447.7h0M665.1 448.0h0M669.4 448.0h0M671.8 448.7h0M666.3 448.6h0M665.3 449.1h0M674.2 449.1h0M672.3 449.4h0M676.0 449.4h0M665.3 450.0h0M673.8 450.1h0M667.2 450.6h0M664.8 450.4h0M670.7 450.3h0M675.6 450.9h0M674.4 451.2h0M668.8 451.5h0M672.6 451.6h0M675.1 452.0h0M675.3 451.8h0M673.3 452.4h0M670.2 452.5h0M673.7 452.4h0M672.1 452.9h0M670.4 453.0h0M672.4 453.7h0M666.7 453.4h0M669.3 454.1h0M676.3 453.8h0M668.6 454.3h0M675.9 454.4h0M673.0 455.0h0M672.0 455.2h0M666.5 455.6h0M673.5 455.4h0M664.9 456.2h0M672.6 456.0h0M672.8 456.3h0M675.4 456.5h0M670.3 457.1h0M673.9 457.2h0M667.9 457.3h0M664.4 457.4h0M674.2 458.2h0M674.6 457.9h0M670.5 458.7h0M672.0 458.6h0M674.7 459.0h0M670.5 459.0h0M666.7 459.7h0M670.5 459.4h0M669.8 460.2h0M666.6 459.9h0M673.8 460.4h0M669.7 460.7h0M671.1 460.9h0M668.7 460.8h0M671.2 461.7h0M672.4 461.8h0M670.5 462.2h0M674.8 462.7h0M674.7 462.4h0M665.1 462.8h0M665.1 463.1h0M674.9 463.3h0M671.7 463.7h0M669.0 463.8h0M671.4 464.1h0M667.8 464.3h0M665.2 464.7h0M670.8 464.9h0M674.1 464.8h0M667.3 465.4h0M673.7 465.6h0M669.0 466.2h0M668.5 466.0h0M671.6 466.7h0M666.1 466.7h0M672.5 466.8h0M674.9 466.9h0M672.3 467.4h0M664.5 467.5h0M672.9 467.9h0M670.3 468.1h0M666.8 468.5h0M666.9 468.5h0M672.0 468.9h0M674.7 469.1h0M667.1 469.4h0M665.5 469.3h0M675.0 470.0h0M669.2 469.9h0M666.8 470.4h0M671.3 470.4h0M675.0 470.7h0M675.4 471.2h0M675.7 471.0h0M673.6 471.2h0M674.1 471.6h0M673.1 471.7h0M671.4 471.9h0M670.9 471.8h0M675.5 472.7h0M670.6 472.3h0M675.0 472.5h0M673.1 472.8h0M666.5 473.0h0M673.8 473.3h0M668.8 473.3h0M673.4 474.1h0M669.7 474.2h0M671.6 474.3h0M675.2 474.5h0M672.2 474.8h0M668.4 475.0h0M670.3 475.5h0M664.2 475.5h0M674.0 475.9h0M675.0 475.8h0M667.2 476.6h0M673.3 476.7h0M673.7 477.2h0M674.2 476.8h0M673.2 477.3h0M671.0 477.3h0M665.4 477.9h0M672.3 478.2h0M670.2 478.6h0M672.5 478.3h0M668.6 479.2h0M672.1 479.0h0M674.5 479.4h0M668.9 479.3h0M671.9 479.8h0M668.2 480.1h0M666.7 480.5h0M673.8 480.3h0M671.0 481.0h0M664.1 481.2h0M667.1 481.6h0M669.7 481.3h0M667.0 482.0h0M669.3 482.1h0M668.7 482.5h0M666.0 482.6h0M673.2 482.8h0M669.6 483.0h0M672.1 483.6h0M668.0 483.5h0M671.1 483.8h0M668.0 484.1h0M673.5 484.3h0M673.4 484.3h0M664.8 484.8h0M672.4 485.2h0M667.8 485.4h0M666.6 485.7h0M669.4 486.1h0M673.2 486.1h0M673.7 486.6h0M667.3 486.3h0M674.1 487.2h0M668.0 486.8h0M666.2 487.6h0M673.1 487.6h0M667.6 488.1h0M673.9 487.8h0M668.7 488.2h0M668.1 488.4h0M662.6 488.5h0M669.7 488.8h0M673.5 488.9h0M668.0 489.3h0M672.6 489.7h0M672.4 490.1h0M671.4 490.2h0M671.2 490.3h0M662.7 490.5h0M667.1 490.7h0M673.7 491.2h0M668.6 491.2h0M666.4 491.3h0M666.9 491.4h0M671.5 491.8h0M669.1 491.8h0M665.6 492.7h0M673.8 492.7h0M672.2 492.9h0M672.9 492.8h0M668.9 493.4h0M670.6 493.3h0M665.8 494.1h0M662.3 494.1h0M673.4 494.6h0M669.3 494.3h0M667.7 494.3h0M672.5 495.0h0M662.6 495.0h0M672.7 495.5h0M667.8 495.3h0M665.7 496.0h0M671.1 495.9h0M668.6 496.5h0M668.5 496.6h0M662.8 496.9h0M662.0 497.0h0M673.1 497.7h0M664.2 497.4h0M669.9 497.9h0M673.1 498.2h0M663.1 498.7h0M671.3 498.7h0M670.9 499.0h0M664.1 498.8h0M673.3 499.7h0M667.1 499.7h0M668.5 499.9h0M672.6 500.1h0M663.5 500.6h0M669.9 500.6h0M663.8 500.9h0M665.7 501.2h0M663.5 501.5h0M662.8 501.7h0M670.4 501.9h0M672.4 501.8h0M671.8 502.1h0M660.9 502.5h0M663.7 502.6h0M661.1 502.8h0M670.3 502.9h0M667.6 502.8h0M670.9 503.3h0M667.7 503.7h0M666.8 504.1h0M667.7 504.2h0M669.5 503.8h0M668.2 504.4h0M672.6 504.3h0M663.7 504.8h0M670.3 505.2h0M660.6 505.6h0M665.2 505.3h0M672.6 506.1h0M663.8 506.1h0M672.2 506.5h0M663.6 506.5h0M671.8 507.1h0M671.0 507.2h0M671.4 507.1h0M661.3 507.4h0M672.2 507.6h0M660.3 507.3h0M659.9 508.0h0M661.4 508.2h0M660.6 508.6h0M669.7 508.4h0M664.5 509.0h0M667.8 509.1h0M672.6 509.3h0M672.2 509.7h0M668.4 509.5h0M671.6 509.9h0M662.7 510.1h0M664.9 510.4h0M661.3 510.7h0M672.5 510.8h0M672.1 511.0h0M661.2 511.0h0M666.8 511.4h0M673.0 511.5h0M663.2 511.9h0M670.9 512.2h0M672.5 511.9h0M660.3 512.4h0M665.8 512.6h0M665.1 512.4h0M663.0 513.0h0M670.9 513.2h0M668.2 513.2h0M667.3 513.6h0M668.0 513.4h0M658.7 513.5h0M663.3 514.2h0M670.0 514.2h0M672.5 513.8h0M660.0 514.7h0M670.1 514.5h0M662.2 515.2h0M667.9 515.2h0M671.8 515.3h0M663.0 515.4h0M667.9 515.8h0M669.9 516.0h0M672.2 515.8h0M667.3 516.7h0M668.5 516.4h0M667.0 516.5h0M668.1 516.9h0M667.9 517.1h0M671.0 517.6h0M661.5 517.3h0M668.0 518.1h0M669.6 518.1h0M659.6 518.7h0M670.3 518.4h0M669.5 518.4h0M667.7 518.8h0M660.5 519.0h0M658.9 519.3h0M666.9 519.4h0M664.3 519.6h0M667.0 520.2h0M669.8 520.0h0M667.6 519.9h0M665.1 520.7h0M665.4 520.5h0M665.6 520.6h0M669.1 521.2h0M663.6 521.2h0M671.3 520.9h0M666.6 521.5h0M672.2 521.6h0M667.7 521.9h0M670.6 521.9h0M661.9 521.8h0M667.7 522.3h0M665.3 522.3h0M666.5 523.1h0M664.2 522.9h0M666.1 523.4h0M669.0 523.3h0M664.7 524.2h0M668.4 524.0h0M667.0 524.2h0M668.4 524.7h0M660.4 524.5h0M662.6 524.4h0M666.4 525.1h0M661.4 524.9h0M665.8 525.3h0M670.3 525.5h0M670.0 525.6h0M667.9 526.2h0M671.7 526.1h0M665.4 526.2h0M665.8 526.3h0M662.3 526.7h0M665.5 527.1h0M667.4 526.9h0M666.4 527.5h0M671.0 527.4h0M660.4 528.2h0M660.1 527.9h0M667.1 528.6h0M666.3 528.4h0M670.5 528.3h0M668.8 529.1h0M667.8 528.9h0M665.3 529.4h0M666.2 529.7h0M668.6 529.8h0M670.5 529.9h0M668.7 530.5h0M668.7 530.5h0M670.2 530.8h0M669.1 531.2h0M665.0 531.7h0M668.1 531.4h0M667.7 531.3h0M664.4 531.9h0M660.8 531.9h0M666.9 532.7h0M665.3 532.3h0M667.5 533.2h0M670.1 532.8h0M664.3 533.3h0M664.6 533.5h0M663.7 533.8h0M667.2 534.2h0M661.2 534.4h0M661.2 534.7h0M669.3 534.6h0M666.6 535.1h0M668.0 535.1h0M662.3 535.5h0M662.9 535.6h0M663.5 536.1h0M669.4 536.2h0M666.3 536.5h0M661.6 536.4h0M665.9 537.0h0M659.5 536.8h0M666.4 537.6h0M668.2 537.3h0M667.3 538.1h0M660.3 538.0h0M666.9 537.9h0M662.9 538.3h0M661.8 538.6h0M666.0 538.8h0M661.4 538.8h0M669.9 539.3h0M664.8 539.5h0M669.6 539.5h0M665.5 540.1h0M664.9 540.0h0M668.4 375.7h0M681.0 273.5h0M687.0 274.5h0M858.4 230.8h0M854.7 231.1h0M859.0 231.3h0M858.0 231.5h0M852.3 232.0h0M857.1 232.6h0M854.3 233.2h0M852.1 233.6h0M854.3 234.1h0M857.7 234.4h0M852.7 235.2h0M857.6 235.5h0M856.3 236.2h0M850.5 235.9h0M852.6 236.5h0M854.7 237.0h0M855.4 236.8h0M858.4 237.4h0M857.8 238.0h0M850.3 238.6h0M855.7 238.5h0M857.0 238.8h0M850.7 239.6h0M855.5 239.7h0M858.5 240.1h0M856.1 240.7h0M852.6 240.9h0M853.5 241.4h0M858.6 242.1h0M858.7 242.7h0M853.5 242.9h0M858.5 243.7h0M849.3 243.6h0M853.9 243.9h0M858.9 244.7h0M854.2 244.3h0M855.7 244.9h0M851.3 245.5h0M851.8 246.1h0M851.3 246.2h0M849.5 246.6h0M856.9 246.7h0M855.8 246.8h0M853.7 246.9h0M847.7 247.3h0M847.2 247.4h0M855.7 248.2h0M852.3 248.5h0M854.3 249.2h0M852.8 249.1h0M848.6 249.6h0M854.3 249.7h0M848.8 250.1h0M855.8 250.1h0M855.7 250.6h0M856.8 250.8h0M849.9 251.3h0M846.5 251.5h0M856.7 252.0h0M847.2 252.4h0M855.3 252.9h0M846.8 253.3h0M851.8 253.5h0M858.5 253.8h0M856.9 254.3h0M856.1 254.8h0M856.6 255.3h0M854.8 256.0h0M850.7 256.2h0M850.7 256.5h0M850.1 257.0h0M852.6 257.1h0M846.1 257.3h0M844.8 258.2h0M849.7 258.6h0M851.2 258.7h0M855.1 259.2h0M851.3 258.8h0M854.7 259.3h0M852.7 260.0h0M845.5 260.1h0M844.9 260.5h0M856.7 260.8h0M853.5 261.5h0M846.1 262.0h0M843.3 262.0h0M850.4 262.6h0M856.7 262.7h0M857.2 263.2h0M848.6 263.6h0M853.0 263.4h0M856.1 264.1h0M852.7 263.9h0M848.1 264.7h0M850.1 264.5h0M854.3 265.1h0M850.4 265.0h0M852.5 265.4h0M844.0 265.8h0M849.4 266.1h0M855.7 266.5h0M845.5 266.9h0M851.1 266.9h0M852.0 267.3h0M846.5 267.7h0M856.5 267.9h0M849.3 267.9h0M849.8 268.3h0M846.1 268.3h0M849.1 268.9h0M858.8 269.2h0M858.5 269.5h0M854.8 269.7h0M857.3 270.1h0M855.8 270.1h0M849.0 270.7h0M851.6 271.1h0M857.9 271.0h0M849.1 271.6h0M854.3 272.1h0M855.7 272.3h0M849.0 273.2h0M853.3 273.4h0M854.9 273.7h0M849.8 274.2h0M854.0 273.8h0M849.3 274.5h0M855.9 274.5h0M852.2 275.1h0M854.8 275.4h0M848.6 275.9h0M851.5 275.9h0M847.4 276.6h0M853.8 276.8h0M854.7 277.6h0M851.3 277.7h0M852.6 277.9h0M849.9 278.6h0M855.2 279.2h0M855.9 278.9h0M854.2 279.7h0M854.8 279.5h0M854.1 280.0h0M849.7 280.7h0M852.6 280.4h0M854.0 281.1h0M844.6 281.2h0M854.1 281.6h0M849.5 281.5h0M847.2 282.1h0M848.4 282.6h0M849.9 282.4h0M851.3 283.0h0M856.5 283.7h0M850.3 283.9h0M851.1 284.1h0M844.6 284.7h0M847.5 284.3h0M855.3 285.1h0M843.9 285.2h0M855.2 285.3h0M853.6 286.1h0M847.5 286.6h0M847.1 286.9h0M854.4 287.0h0M853.6 287.5h0M856.1 287.9h0M847.3 288.1h0M850.2 288.6h0M843.5 288.8h0M850.6 289.7h0M849.6 289.6h0M855.7 289.9h0M845.3 290.5h0M851.3 290.5h0M855.2 291.2h0M849.9 291.7h0M848.9 291.7h0M852.1 291.8h0M852.7 292.7h0M853.3 292.6h0M848.3 293.0h0M852.6 293.0h0M850.3 293.4h0M849.4 293.6h0M853.1 294.0h0M844.2 294.2h0M853.0 294.6h0M855.0 294.3h0M844.2 295.0h0M854.4 295.1h0M843.9 295.4h0M844.3 296.1h0M850.2 296.3h0M848.1 296.5h0M853.0 297.1h0M851.0 297.7h0M848.0 297.6h0M844.3 297.9h0M850.1 297.9h0M844.1 298.5h0M846.4 298.5h0M856.5 298.8h0M857.0 299.3h0M847.3 299.5h0M850.8 300.1h0M855.6 300.2h0M847.1 300.3h0M849.7 300.7h0M845.4 301.1h0M849.6 301.0h0M855.0 301.5h0M845.7 301.7h0M844.6 301.9h0M855.7 302.1h0M854.8 302.3h0M855.2 302.7h0M855.3 303.2h0M849.9 302.9h0M854.9 303.3h0M852.2 303.4h0M843.9 304.0h0M853.6 304.5h0M853.0 304.4h0M854.4 304.9h0M849.4 304.9h0M851.8 305.3h0M847.2 305.7h0M848.4 306.2h0M848.3 306.0h0M847.9 306.7h0M850.5 306.6h0M843.1 306.9h0M854.8 307.0h0M854.7 307.3h0M844.5 308.0h0M852.5 308.7h0M843.1 309.1h0M848.0 309.3h0M854.1 309.3h0M850.8 310.1h0M853.9 310.0h0M844.7 310.6h0M845.9 310.6h0M850.2 310.9h0M848.2 311.3h0M849.9 312.1h0M847.8 311.9h0M851.6 312.6h0M853.3 313.2h0M845.0 313.1h0M843.6 313.7h0M853.2 313.8h0M850.6 314.6h0M852.8 314.9h0M842.5 315.4h0M842.4 315.4h0M849.8 316.2h0M850.8 316.2h0M848.6 316.4h0M849.1 317.2h0M841.5 317.6h0M841.6 317.4h0M845.9 318.2h0M851.2 318.5h0M846.0 319.0h0M846.2 319.0h0M852.2 319.5h0M844.5 319.3h0M847.5 320.2h0M852.5 320.4h0M850.2 321.2h0M845.5 321.0h0M848.0 321.4h0M846.4 322.2h0M849.8 322.6h0M842.9 322.9h0M848.0 323.2h0M846.8 323.6h0M846.1 323.6h0M852.2 323.9h0M852.1 324.3h0M843.6 325.2h0M848.5 324.8h0M851.3 325.7h0M844.5 325.3h0M849.0 325.8h0M844.3 325.9h0M852.1 326.7h0M849.8 326.5h0M847.1 326.8h0M845.2 327.0h0M846.0 327.6h0M842.0 327.5h0M842.2 328.2h0M847.7 328.0h0M846.5 328.7h0M846.0 328.7h0M851.0 328.9h0M848.1 329.7h0M848.5 329.7h0M851.9 329.9h0M850.1 329.9h0M849.0 330.4h0M845.7 330.7h0M848.0 331.2h0M847.8 331.4h0M844.8 332.0h0M842.0 332.4h0M844.4 332.6h0M848.6 333.2h0M848.9 333.5h0M847.5 333.3h0M847.3 333.8h0M841.3 334.3h0M848.0 335.2h0M850.5 334.9h0M849.6 335.7h0M848.6 335.3h0M847.8 336.0h0M851.3 336.3h0M851.8 336.3h0M845.2 337.1h0M847.5 337.6h0M850.4 338.2h0M851.2 338.1h0M848.3 338.7h0M848.8 338.8h0M841.4 339.6h0M847.8 339.7h0M849.1 339.9h0M850.4 340.4h0M840.3 340.5h0M848.9 340.9h0M846.0 341.3h0M850.1 341.5h0M842.4 341.8h0M849.5 341.9h0M846.8 342.6h0M846.4 342.8h0M848.9 342.9h0M846.2 343.5h0M846.8 343.5h0M849.6 344.1h0M842.5 344.7h0M845.6 344.6h0M844.2 345.2h0M845.6 345.7h0M847.1 345.3h0M842.6 345.8h0M842.8 346.1h0M846.5 346.4h0M848.8 346.6h0M845.0 347.2h0M845.8 347.2h0M843.8 347.5h0M846.2 348.2h0M843.3 347.9h0M843.1 348.5h0M844.9 348.8h0M846.1 348.9h0M848.8 349.4h0M844.6 349.9h0M841.8 350.3h0M841.0 350.4h0M848.4 350.8h0M840.2 350.9h0M847.5 351.3h0M845.1 351.7h0M847.3 352.0h0M844.2 352.1h0M842.4 352.5h0M844.0 352.5h0M849.4 353.1h0M847.9 353.1h0M849.9 353.5h0M846.4 353.8h0M847.5 353.9h0M844.2 354.5h0M846.8 355.2h0M842.4 355.2h0M845.0 355.3h0M844.2 356.2h0M848.3 356.5h0M843.2 356.9h0M846.6 356.9h0M848.0 357.4h0M841.8 357.3h0M850.6 357.8h0M840.7 358.1h0M842.3 358.4h0M849.7 358.4h0M848.6 358.9h0M846.8 358.9h0M844.8 359.4h0M845.6 359.7h0M842.6 360.0h0M840.5 359.8h0M846.2 360.5h0M845.2 360.6h0M842.7 361.2h0M841.8 360.8h0M846.9 361.4h0M847.8 361.8h0M843.2 362.0h0M847.8 362.6h0M846.7 362.5h0M840.4 362.9h0M843.9 363.4h0M850.4 363.4h0M838.9 364.0h0M844.1 363.9h0M846.9 364.3h0M848.5 364.8h0M840.8 365.2h0M846.1 365.6h0M844.0 365.5h0M843.5 366.0h0M845.2 365.8h0M844.2 366.5h0M846.2 366.4h0M848.3 367.1h0M848.0 366.9h0M846.7 367.3h0M849.6 367.5h0M842.7 368.1h0M847.9 367.8h0M840.7 368.4h0M848.8 368.3h0M839.8 369.2h0M844.1 369.0h0M839.7 369.6h0M840.9 369.6h0M840.3 369.9h0M843.6 370.1h0M837.8 370.4h0M847.2 370.4h0M843.8 371.1h0M845.9 371.3h0M842.5 371.9h0M838.0 372.2h0M847.4 372.6h0M843.8 372.7h0M838.9 373.2h0M841.3 372.8h0M848.1 373.7h0M843.8 373.6h0M841.7 373.9h0M844.7 373.8h0M845.6 374.6h0M844.8 374.4h0M837.6 374.9h0M846.9 375.4h0M846.4 376.2h0M847.1 376.2h0M845.2 376.3h0M847.3 376.8h0M841.1 377.6h0M844.0 377.7h0M846.9 377.9h0M847.9 377.8h0M837.9 378.6h0M841.8 378.7h0M845.9 379.2h0M846.8 379.4h0M844.2 379.6h0M845.7 379.8h0M839.1 380.0h0M843.4 380.6h0M846.5 380.4h0M841.0 380.8h0M841.9 381.4h0M847.8 381.8h0M845.8 381.8h0M843.6 382.3h0M842.7 382.9h0M843.4 383.6h0M844.8 383.6h0M847.2 383.9h0M846.8 383.8h0M840.2 384.3h0M846.9 384.3h0M846.0 384.9h0M842.3 385.2h0M843.4 385.4h0M846.4 385.3h0M847.3 385.9h0M842.2 386.6h0M845.7 386.5h0M845.7 387.2h0M840.2 386.9h0M840.2 387.4h0M846.5 387.7h0M845.4 388.1h0M839.4 387.8h0M846.0 388.6h0M841.4 389.2h0M841.4 389.0h0M845.0 389.4h0M840.6 389.7h0M845.4 389.9h0M847.1 390.1h0M841.4 390.4h0M847.0 391.1h0M837.1 391.2h0M836.5 391.4h0M845.0 391.5h0M845.2 391.8h0M839.6 392.2h0M840.5 392.6h0M839.4 392.6h0M845.3 393.2h0M838.0 392.8h0M845.2 393.5h0M846.7 393.7h0M835.2 394.2h0M842.1 393.9h0M841.4 394.7h0M843.2 394.4h0M839.9 395.2h0M846.2 395.2h0M846.0 395.5h0M841.0 395.5h0M842.2 395.9h0M847.5 395.9h0M835.4 396.3h0M842.3 396.4h0M843.0 396.9h0M844.2 396.9h0M846.9 397.5h0M842.1 398.2h0M846.3 398.2h0M847.1 398.4h0M844.8 398.3h0M838.8 399.2h0M842.8 399.2h0M844.5 399.7h0M842.8 399.4h0M841.9 400.0h0M841.0 400.4h0M840.6 400.4h0M839.7 400.9h0M843.7 401.0h0M846.3 401.7h0M845.7 401.3h0M844.3 402.1h0M838.8 402.4h0M844.5 402.4h0M835.9 403.1h0M838.8 402.8h0M836.8 403.6h0M837.0 403.6h0M843.3 404.2h0M838.4 404.2h0M845.1 404.3h0M839.6 404.4h0M841.7 404.8h0M838.2 405.3h0M841.4 405.6h0M843.9 406.2h0M837.8 406.1h0M844.6 406.6h0M839.0 406.3h0M842.5 407.0h0M843.8 407.1h0M842.7 407.5h0M835.0 408.2h0M845.2 408.0h0M842.8 408.5h0M845.7 408.3h0M843.4 408.8h0M842.0 408.8h0M837.4 409.5h0M844.0 409.5h0M840.3 410.2h0M841.5 410.0h0M840.5 410.4h0M843.1 410.4h0M843.4 410.9h0M841.8 410.9h0M835.8 411.6h0M838.8 411.6h0M842.9 412.1h0M835.3 411.8h0M840.2 412.4h0M841.8 412.7h0M842.4 413.0h0M843.5 413.0h0M841.7 413.7h0M847.2 413.7h0M843.9 414.0h0M840.0 413.9h0M839.3 414.2h0M847.7 414.7h0M847.5 414.5h0M846.9 415.1h0M836.9 415.0h0M837.0 415.3h0M845.9 415.5h0M841.4 415.8h0M845.5 415.8h0M842.2 416.5h0M844.1 416.7h0M842.9 417.2h0M833.2 417.1h0M846.3 417.5h0M839.7 417.4h0M846.9 418.1h0M835.6 417.9h0M843.9 418.6h0M833.7 418.4h0M840.5 418.9h0M844.8 419.0h0M834.2 418.8h0M837.8 419.7h0M834.1 419.4h0M837.1 420.2h0M843.2 420.1h0M835.1 420.5h0M845.9 420.5h0M835.9 420.3h0M843.2 420.9h0M841.1 420.9h0M833.9 421.3h0M846.6 421.5h0M841.7 421.9h0M840.6 422.2h0M841.7 422.5h0M833.5 422.3h0M834.8 423.1h0M845.0 422.8h0M845.2 423.7h0M844.0 423.6h0M834.5 423.8h0M844.5 424.0h0M839.8 424.3h0M845.1 424.4h0M838.9 424.9h0M840.4 424.9h0M838.3 425.5h0M843.1 425.3h0M842.5 426.1h0M837.2 426.0h0M841.2 426.5h0M838.5 426.7h0M840.4 427.1h0M841.0 427.0h0M844.6 427.5h0M843.9 427.5h0M838.7 428.0h0M841.4 427.9h0M842.0 428.7h0M838.0 428.5h0M840.2 428.9h0M844.0 428.8h0M834.9 429.4h0M839.2 429.6h0M838.4 430.2h0M837.8 430.1h0M839.5 430.4h0M840.6 430.6h0M836.0 431.1h0M839.9 431.2h0M841.9 431.6h0M843.2 431.4h0M837.3 431.9h0M843.0 432.2h0M840.8 432.3h0M843.3 432.5h0M838.3 433.1h0M834.3 432.8h0M844.3 433.7h0M841.6 433.6h0M842.3 433.9h0M837.0 434.1h0M841.8 434.5h0M837.7 434.4h0M833.7 435.0h0M837.8 435.0h0M836.3 435.5h0M843.1 435.3h0M837.7 436.0h0M841.8 436.2h0M843.2 436.3h0M842.8 436.4h0M839.7 437.1h0M840.7 437.0h0M833.5 437.6h0M838.0 437.7h0M839.3 438.1h0M844.8 438.0h0M841.9 438.4h0M840.3 438.3h0M833.9 438.4h0M838.3 439.2h0M838.1 438.8h0M836.2 439.7h0M837.6 439.6h0M842.7 439.4h0M839.8 440.1h0M837.7 440.0h0M839.8 440.5h0M840.0 440.4h0M834.7 440.9h0M840.1 440.8h0M841.4 441.5h0M834.7 441.7h0M844.7 442.2h0M840.0 441.9h0M840.0 442.3h0M840.6 442.4h0M840.2 443.1h0M845.3 443.2h0M842.0 443.7h0M833.9 443.5h0M844.5 443.4h0M842.9 444.1h0M836.6 443.8h0M845.3 444.1h0M843.9 444.4h0M843.6 444.5h0M845.1 444.7h0M837.8 444.9h0M834.5 444.8h0M840.8 445.2h0M834.8 445.7h0M838.4 445.7h0M839.5 446.0h0M832.6 446.0h0M842.2 445.8h0M843.6 446.3h0M842.4 446.6h0M832.4 446.9h0M842.3 447.0h0M831.5 447.4h0M842.2 447.3h0M841.2 447.8h0M845.2 447.9h0M844.0 447.8h0M842.1 448.3h0M839.5 448.5h0M841.1 448.8h0M842.4 449.1h0M832.5 449.0h0M842.9 449.6h0M840.7 449.4h0M838.6 450.0h0M842.5 450.0h0M835.7 450.7h0M838.0 450.3h0M838.8 450.8h0M834.7 451.2h0M833.7 451.4h0M839.2 451.5h0M837.8 452.0h0M839.8 452.0h0M840.0 452.0h0M835.3 452.4h0M834.4 452.3h0M835.7 453.2h0M843.0 453.2h0M840.0 453.7h0M840.5 453.3h0M837.1 454.0h0M841.9 454.0h0M841.6 454.5h0M838.9 454.3h0M841.3 455.2h0M839.1 455.3h0M841.5 455.5h0M841.5 456.2h0M840.3 455.9h0M833.7 456.3h0M837.9 456.7h0M840.8 456.8h0M838.9 456.9h0M835.7 457.5h0M837.1 457.4h0M835.5 457.8h0M841.2 457.9h0M831.3 458.5h0M835.1 458.3h0M841.4 458.9h0M838.0 458.9h0M840.9 459.3h0M839.3 459.6h0M841.1 459.9h0M841.8 460.0h0M831.7 460.7h0M835.1 460.6h0M830.9 461.2h0M834.7 460.8h0M840.7 461.0h0M839.7 461.4h0M839.9 461.6h0M830.2 461.5h0M840.9 461.8h0M842.1 462.1h0M834.6 462.6h0M841.8 462.5h0M836.8 463.0h0M842.4 462.9h0M838.4 463.5h0M836.6 463.6h0M837.5 464.0h0M840.4 464.0h0M834.0 464.5h0M832.0 464.3h0M832.7 464.8h0M835.9 465.0h0M840.9 465.4h0M838.2 465.3h0M837.3 466.0h0M839.5 465.9h0M833.3 465.9h0M835.5 466.6h0M840.2 466.5h0M840.0 466.9h0M836.9 466.8h0M841.9 467.6h0M833.2 467.6h0M839.7 467.9h0M840.7 467.9h0M837.3 468.4h0M837.3 468.7h0M831.8 468.9h0M835.5 469.1h0M831.4 469.6h0M836.5 469.6h0M835.0 470.0h0M837.5 469.9h0M839.4 470.6h0M840.4 470.4h0M833.3 471.0h0M840.9 471.1h0M840.8 471.5h0M839.7 471.3h0M838.5 471.8h0M839.4 471.9h0M834.8 472.4h0M838.7 472.6h0M840.1 473.2h0M839.8 472.9h0M839.0 473.3h0M841.6 473.3h0M840.7 473.9h0M831.9 473.9h0M839.0 474.4h0M840.2 474.4h0M837.3 474.9h0M836.1 475.0h0M839.5 475.5h0M834.5 475.6h0M837.8 475.9h0M833.7 476.1h0M837.3 476.6h0M838.2 476.4h0M836.6 476.8h0M840.0 477.1h0M834.5 477.3h0M834.1 477.5h0M837.7 477.8h0M837.1 478.0h0M838.1 478.5h0M832.3 478.6h0M836.2 479.2h0M837.8 479.2h0M837.0 479.4h0M840.9 479.7h0M838.4 479.8h0M840.4 480.2h0M835.3 480.4h0M834.9 480.7h0M836.8 480.8h0M831.4 481.2h0M836.3 481.7h0M834.8 481.5h0M836.9 481.8h0M840.5 482.2h0M838.5 482.4h0M834.8 482.7h0M833.1 483.1h0M838.2 483.2h0M840.9 483.3h0M838.1 483.5h0M840.9 483.9h0M833.1 483.8h0M834.6 484.3h0M838.4 484.6h0M836.0 484.9h0M838.1 485.0h0M834.1 485.6h0M836.0 485.3h0M836.6 485.8h0M833.8 485.9h0M829.7 486.7h0M840.7 486.6h0M839.4 487.1h0M837.1 487.2h0M836.2 487.0h0M830.7 487.5h0M830.4 487.4h0M835.0 487.5h0M840.7 488.0h0M831.4 487.8h0M840.6 488.3h0M837.9 488.5h0M831.0 489.0h0M840.0 489.1h0M840.4 489.3h0M833.4 489.4h0M837.6 490.1h0M840.1 490.0h0M833.0 490.6h0M830.7 490.7h0M831.4 491.1h0M833.2 491.2h0M829.6 490.8h0M837.3 491.5h0M835.5 491.3h0M836.2 491.9h0M837.2 492.0h0M839.1 492.4h0M839.9 492.6h0M838.2 493.0h0M837.9 493.2h0M837.4 493.0h0M839.7 493.4h0M831.3 493.6h0M833.6 493.9h0M831.2 494.1h0M836.5 494.3h0M832.9 494.6h0M837.7 495.2h0M837.7 494.8h0M836.2 495.2h0M838.4 495.6h0M838.9 495.3h0M840.6 495.7h0M831.0 496.2h0M840.3 496.0h0M832.1 496.5h0M839.2 496.5h0M833.2 497.0h0M835.6 497.1h0M832.8 497.6h0M833.9 497.4h0M829.5 497.8h0M835.4 497.9h0M837.4 497.9h0M831.5 498.4h0M837.8 498.3h0M834.6 498.5h0M831.2 499.1h0M828.3 499.0h0M829.5 499.5h0M832.1 499.3h0M836.2 499.7h0M830.2 499.8h0M837.9 499.9h0M840.2 500.7h0M840.3 500.3h0M828.4 500.4h0M835.1 501.1h0M833.7 501.1h0M838.7 501.6h0M839.8 501.7h0M829.9 502.0h0M834.5 501.8h0M838.8 502.2h0M838.8 502.3h0M839.3 502.6h0M833.3 502.9h0M838.9 502.8h0M839.8 502.8h0M839.4 503.5h0M831.6 503.6h0M838.3 503.9h0M838.1 504.0h0M831.9 504.6h0M836.7 504.4h0M828.9 504.5h0M832.4 504.9h0M833.4 505.2h0M834.5 505.7h0M835.6 505.6h0M828.5 506.1h0M839.9 505.8h0M833.3 505.9h0M828.2 506.3h0M840.4 506.4h0M840.2 507.0h0M830.4 506.8h0M840.5 507.4h0M836.9 507.4h0M828.7 507.7h0M832.6 507.8h0M833.4 507.9h0M839.9 508.6h0M833.0 508.6h0M839.5 508.5h0M836.3 509.1h0M836.2 508.9h0M833.4 509.5h0M827.6 509.6h0M838.2 510.1h0M831.8 510.1h0M830.3 510.2h0M839.8 510.3h0M833.5 510.4h0M839.2 510.5h0M838.4 511.0h0M829.2 511.2h0M833.3 511.6h0M833.1 511.6h0M832.4 511.9h0M836.0 512.0h0M833.3 512.3h0M836.5 512.6h0M831.0 512.4h0M839.1 513.0h0M839.3 512.9h0M833.5 513.2h0M832.2 513.4h0M834.1 513.5h0M838.5 514.1h0M838.9 513.9h0M833.5 514.3h0M830.4 514.7h0M837.3 515.2h0M838.2 514.8h0M837.4 515.3h0M835.7 515.6h0M838.4 515.4h0M829.5 515.8h0M834.2 515.9h0M831.4 515.8h0M838.7 516.6h0M836.2 516.6h0M828.5 516.5h0M829.6 517.1h0M829.2 516.8h0M828.0 517.4h0M834.0 517.7h0M835.1 518.0h0M836.7 517.8h0M828.4 518.2h0M833.0 518.4h0M838.2 518.7h0M836.2 518.6h0M835.7 518.8h0M838.9 518.8h0M829.9 518.9h0M832.6 519.4h0M834.4 519.6h0M839.7 519.5h0M837.7 520.0h0M828.3 519.8h0M834.4 520.7h0M832.2 520.6h0M832.7 520.7h0M839.3 520.8h0M836.3 521.1h0M833.7 521.0h0M835.1 521.3h0M839.2 521.7h0M837.4 521.7h0M832.8 522.0h0M838.1 522.0h0M832.5 521.8h0M836.5 522.5h0M833.2 522.3h0M835.8 523.2h0M835.7 523.0h0M837.4 523.3h0M834.6 523.3h0M837.8 523.4h0M837.3 524.0h0M838.7 523.8h0M838.5 524.3h0M826.8 524.7h0M829.6 524.4h0M838.2 525.0h0M838.3 524.8h0M832.8 525.6h0M835.6 525.5h0M837.2 526.1h0M834.4 525.8h0M830.1 526.3h0M837.5 526.6h0M836.8 527.0h0M838.0 527.0h0M837.9 526.8h0M832.1 527.4h0M833.2 527.6h0M829.2 527.8h0M829.4 528.0h0M836.1 528.6h0M831.5 528.5h0M830.4 529.0h0M828.8 529.2h0M833.4 529.6h0M828.6 529.7h0M832.0 529.9h0M830.4 530.0h0M832.4 530.6h0M830.6 530.5h0M831.9 530.8h0M836.1 531.2h0M832.1 531.4h0M835.7 531.3h0M833.9 531.8h0M828.1 532.1h0M836.3 532.3h0M833.8 532.4h0M832.6 533.0h0M830.3 533.0h0M835.1 533.6h0M836.6 533.4h0M832.4 534.2h0M830.2 534.2h0M830.7 534.3h0M832.3 534.3h0M833.2 535.0h0M834.7 535.1h0M835.8 535.7h0M830.8 535.6h0M827.2 536.0h0M836.4 535.8h0M833.0 536.7h0M829.3 536.5h0M833.9 536.9h0M829.4 537.0h0M827.0 537.6h0M836.4 537.5h0M830.4 537.8h0M832.5 538.0h0M835.4 538.3h0M836.3 538.3h0M830.9 539.0h0M831.9 539.1h0M834.9 539.5h0M829.9 539.3h0M827.4 540.1h0M834.6 539.8h0M859.2 227.8h0M835.1 376.2h0M853.5 337.5h0M825.8 517.4h0M856.5 229.5h0"/></g>
<g fill="none" stroke="#000" stroke-width="1.6"><rect x="113.4" y="54.9" width="166.95" height="482.15"/><rect x="280.35" y="54.9" width="166.95" height="482.15"/><rect x="447.3" y="54.9" width="166.95" height="482.15"/><rect x="614.25" y="54.9" width="166.95" height="482.15"/><rect x="781.2" y="54.9" width="166.95" height="482.15"/></g>
<rect x="442" y="54.4" width="6.2" height="483.15" fill="#000"/>
<path fill="none" stroke="#000" stroke-width="1.5" d="M107.2 95H113.4M107.2 184.3H113.4M107.2 273.6H113.4M107.2 362.9H113.4M107.2 452.2H113.4M153.9 537.05V543.25M218.3 537.05V543.25M274.15 95H280.35M274.15 184.3H280.35M274.15 273.6H280.35M274.15 362.9H280.35M274.15 452.2H280.35M320.85 537.05V543.25M385.25 537.05V543.25M441.1 95H447.3M441.1 184.3H447.3M441.1 273.6H447.3M441.1 362.9H447.3M441.1 452.2H447.3M487.8 537.05V543.25M552.2 537.05V543.25M608.05 95H614.25M608.05 184.3H614.25M608.05 273.6H614.25M608.05 362.9H614.25M608.05 452.2H614.25M654.75 537.05V543.25M719.15 537.05V543.25M775 95H781.2M775 184.3H781.2M775 273.6H781.2M775 362.9H781.2M775 452.2H781.2M821.7 537.05V543.25M886.1 537.05V543.25"/>
<g font-size="40.05" fill="#000" stroke="#000" stroke-width="0.4" ><text y="28.40"><tspan x="140.19" textLength="21.17" lengthAdjust="spacingAndGlyphs">1</tspan><tspan x="163.93" textLength="22.16" lengthAdjust="spacingAndGlyphs">0</tspan> <tspan x="199.32" textLength="28.68" lengthAdjust="spacingAndGlyphs">G</tspan><tspan x="229.37" textLength="20.30" lengthAdjust="spacingAndGlyphs">y</tspan><tspan x="251.16" textLength="15.74" lengthAdjust="spacingAndGlyphs">r</tspan><tspan x="265.31" textLength="13.13" lengthAdjust="spacingAndGlyphs">,</tspan> <tspan x="290.68" textLength="25.09" lengthAdjust="spacingAndGlyphs">Z</tspan><tspan x="318.23" textLength="27.60" lengthAdjust="spacingAndGlyphs">=</tspan><tspan x="347.89" textLength="13.57" lengthAdjust="spacingAndGlyphs">-</tspan><tspan x="362.75" textLength="21.17" lengthAdjust="spacingAndGlyphs">1</tspan><tspan x="385.85" textLength="11.36" lengthAdjust="spacingAndGlyphs">.</tspan><tspan x="398.97" textLength="20.91" lengthAdjust="spacingAndGlyphs">5</tspan></text><text y="28.40"><tspan x="557.70" textLength="21.17" lengthAdjust="spacingAndGlyphs">1</tspan><tspan x="581.43" textLength="22.16" lengthAdjust="spacingAndGlyphs">0</tspan> <tspan x="616.83" textLength="28.68" lengthAdjust="spacingAndGlyphs">G</tspan><tspan x="646.88" textLength="20.30" lengthAdjust="spacingAndGlyphs">y</tspan><tspan x="668.66" textLength="15.74" lengthAdjust="spacingAndGlyphs">r</tspan><tspan x="682.82" textLength="13.13" lengthAdjust="spacingAndGlyphs">,</tspan> <tspan x="708.19" textLength="25.09" lengthAdjust="spacingAndGlyphs">Z</tspan><tspan x="735.73" textLength="27.60" lengthAdjust="spacingAndGlyphs">=</tspan><tspan x="765.39" textLength="13.57" lengthAdjust="spacingAndGlyphs">-</tspan><tspan x="779.84" textLength="21.36" lengthAdjust="spacingAndGlyphs">2</tspan><tspan x="803.36" textLength="11.36" lengthAdjust="spacingAndGlyphs">.</tspan><tspan x="816.00" textLength="22.16" lengthAdjust="spacingAndGlyphs">0</tspan></text></g><g font-size="36.34" fill="#000" stroke="#000" stroke-width="0.4" ><text y="609.20"><tspan x="338.51" textLength="17.96" lengthAdjust="spacingAndGlyphs">F</tspan><tspan x="358.13" textLength="20.11" lengthAdjust="spacingAndGlyphs">0</tspan><tspan x="379.51" textLength="20.77" lengthAdjust="spacingAndGlyphs">9</tspan><tspan x="401.78" textLength="20.11" lengthAdjust="spacingAndGlyphs">0</tspan><tspan x="423.74" textLength="31.92" lengthAdjust="spacingAndGlyphs">W</tspan> <tspan x="467.60" textLength="12.31" lengthAdjust="spacingAndGlyphs">-</tspan> <tspan x="491.80" textLength="17.96" lengthAdjust="spacingAndGlyphs">F</tspan><tspan x="511.34" textLength="19.38" lengthAdjust="spacingAndGlyphs">2</tspan><tspan x="533.25" textLength="20.11" lengthAdjust="spacingAndGlyphs">0</tspan><tspan x="555.07" textLength="20.11" lengthAdjust="spacingAndGlyphs">0</tspan><tspan x="577.03" textLength="31.92" lengthAdjust="spacingAndGlyphs">W</tspan> <tspan x="622.00" textLength="9.68" lengthAdjust="spacingAndGlyphs">(</tspan><tspan x="634.76" textLength="32.55" lengthAdjust="spacingAndGlyphs">m</tspan><tspan x="668.41" textLength="17.15" lengthAdjust="spacingAndGlyphs">a</tspan><tspan x="689.00" textLength="20.73" lengthAdjust="spacingAndGlyphs">g</tspan><tspan x="713.01" textLength="9.68" lengthAdjust="spacingAndGlyphs">)</tspan></text></g><g font-size="29.14" fill="#000" stroke="#000" stroke-width="0.4" ><text y="117.60"><tspan x="144.81" textLength="14.40" lengthAdjust="spacingAndGlyphs">F</tspan><tspan x="160.57" textLength="6.25" lengthAdjust="spacingAndGlyphs">i</tspan><tspan x="167.76" textLength="16.62" lengthAdjust="spacingAndGlyphs">d</tspan><tspan x="185.37" textLength="16.49" lengthAdjust="spacingAndGlyphs">u</tspan><tspan x="202.73" textLength="13.80" lengthAdjust="spacingAndGlyphs">c</tspan><tspan x="218.22" textLength="6.25" lengthAdjust="spacingAndGlyphs">i</tspan><tspan x="225.75" textLength="13.75" lengthAdjust="spacingAndGlyphs">a</tspan><tspan x="242.69" textLength="6.25" lengthAdjust="spacingAndGlyphs">l</tspan></text><text y="117.60"><tspan x="304.01" textLength="18.99" lengthAdjust="spacingAndGlyphs">R</tspan><tspan x="322.83" textLength="16.52" lengthAdjust="spacingAndGlyphs">e</tspan><tspan x="339.84" textLength="13.80" lengthAdjust="spacingAndGlyphs">c</tspan><tspan x="355.13" textLength="9.55" lengthAdjust="spacingAndGlyphs">t</tspan><tspan x="366.11" textLength="6.25" lengthAdjust="spacingAndGlyphs">i</tspan><tspan x="373.41" textLength="9.55" lengthAdjust="spacingAndGlyphs">f</tspan><tspan x="383.43" textLength="6.25" lengthAdjust="spacingAndGlyphs">i</tspan><tspan x="390.61" textLength="16.52" lengthAdjust="spacingAndGlyphs">e</tspan><tspan x="407.54" textLength="16.62" lengthAdjust="spacingAndGlyphs">d</tspan></text><text y="157.60"><tspan x="312.18" textLength="9.55" lengthAdjust="spacingAndGlyphs">t</tspan><tspan x="322.74" textLength="16.26" lengthAdjust="spacingAndGlyphs">o</tspan> <tspan x="348.03" textLength="8.08" lengthAdjust="spacingAndGlyphs">I</tspan><tspan x="356.64" textLength="9.55" lengthAdjust="spacingAndGlyphs">t</tspan><tspan x="367.66" textLength="13.18" lengthAdjust="spacingAndGlyphs">s</tspan><tspan x="381.49" textLength="16.52" lengthAdjust="spacingAndGlyphs">e</tspan><tspan x="398.85" textLength="6.25" lengthAdjust="spacingAndGlyphs">l</tspan><tspan x="406.17" textLength="9.55" lengthAdjust="spacingAndGlyphs">f</tspan></text><text y="117.60"><tspan x="470.08" textLength="20.55" lengthAdjust="spacingAndGlyphs">D</tspan><tspan x="491.60" textLength="6.25" lengthAdjust="spacingAndGlyphs">i</tspan><tspan x="498.90" textLength="9.55" lengthAdjust="spacingAndGlyphs">f</tspan><tspan x="508.58" textLength="9.55" lengthAdjust="spacingAndGlyphs">f</tspan><tspan x="518.15" textLength="16.52" lengthAdjust="spacingAndGlyphs">e</tspan><tspan x="535.13" textLength="11.45" lengthAdjust="spacingAndGlyphs">r</tspan><tspan x="546.37" textLength="16.52" lengthAdjust="spacingAndGlyphs">e</tspan><tspan x="563.56" textLength="16.49" lengthAdjust="spacingAndGlyphs">n</tspan><tspan x="580.98" textLength="9.55" lengthAdjust="spacingAndGlyphs">t</tspan></text><text y="157.60"><tspan x="460.50" textLength="22.84" lengthAdjust="spacingAndGlyphs">M</tspan><tspan x="484.03" textLength="16.52" lengthAdjust="spacingAndGlyphs">e</tspan><tspan x="501.22" textLength="9.55" lengthAdjust="spacingAndGlyphs">t</tspan><tspan x="512.08" textLength="13.75" lengthAdjust="spacingAndGlyphs">a</tspan><tspan x="529.03" textLength="6.25" lengthAdjust="spacingAndGlyphs">l</tspan><tspan x="536.67" textLength="6.25" lengthAdjust="spacingAndGlyphs">l</tspan><tspan x="544.32" textLength="6.25" lengthAdjust="spacingAndGlyphs">i</tspan><tspan x="551.60" textLength="13.80" lengthAdjust="spacingAndGlyphs">c</tspan><tspan x="567.08" textLength="6.25" lengthAdjust="spacingAndGlyphs">i</tspan><tspan x="574.53" textLength="9.55" lengthAdjust="spacingAndGlyphs">t</tspan><tspan x="585.54" textLength="14.77" lengthAdjust="spacingAndGlyphs">y</tspan></text><text y="117.60"><tspan x="637.81" textLength="18.99" lengthAdjust="spacingAndGlyphs">R</tspan><tspan x="656.63" textLength="16.52" lengthAdjust="spacingAndGlyphs">e</tspan><tspan x="673.64" textLength="13.80" lengthAdjust="spacingAndGlyphs">c</tspan><tspan x="688.93" textLength="9.55" lengthAdjust="spacingAndGlyphs">t</tspan><tspan x="699.91" textLength="6.25" lengthAdjust="spacingAndGlyphs">i</tspan><tspan x="707.21" textLength="9.55" lengthAdjust="spacingAndGlyphs">f</tspan><tspan x="717.23" textLength="6.25" lengthAdjust="spacingAndGlyphs">i</tspan><tspan x="724.41" textLength="16.52" lengthAdjust="spacingAndGlyphs">e</tspan><tspan x="741.34" textLength="16.62" lengthAdjust="spacingAndGlyphs">d</tspan></text><text y="157.60"><tspan x="645.98" textLength="9.55" lengthAdjust="spacingAndGlyphs">t</tspan><tspan x="656.54" textLength="16.26" lengthAdjust="spacingAndGlyphs">o</tspan> <tspan x="681.83" textLength="8.08" lengthAdjust="spacingAndGlyphs">I</tspan><tspan x="690.44" textLength="9.55" lengthAdjust="spacingAndGlyphs">t</tspan><tspan x="701.46" textLength="13.18" lengthAdjust="spacingAndGlyphs">s</tspan><tspan x="715.29" textLength="16.52" lengthAdjust="spacingAndGlyphs">e</tspan><tspan x="732.65" textLength="6.25" lengthAdjust="spacingAndGlyphs">l</tspan><tspan x="739.97" textLength="9.55" lengthAdjust="spacingAndGlyphs">f</tspan></text><text y="117.60"><tspan x="793.97" textLength="18.44" lengthAdjust="spacingAndGlyphs">C</tspan><tspan x="813.53" textLength="13.75" lengthAdjust="spacingAndGlyphs">a</tspan><tspan x="830.47" textLength="6.25" lengthAdjust="spacingAndGlyphs">l</tspan><tspan x="838.13" textLength="6.25" lengthAdjust="spacingAndGlyphs">i</tspan><tspan x="845.63" textLength="16.64" lengthAdjust="spacingAndGlyphs">b</tspan><tspan x="862.83" textLength="11.45" lengthAdjust="spacingAndGlyphs">r</tspan><tspan x="874.42" textLength="13.75" lengthAdjust="spacingAndGlyphs">a</tspan><tspan x="891.19" textLength="9.55" lengthAdjust="spacingAndGlyphs">t</tspan><tspan x="901.71" textLength="16.52" lengthAdjust="spacingAndGlyphs">e</tspan><tspan x="918.64" textLength="16.62" lengthAdjust="spacingAndGlyphs">d</tspan></text><text y="157.60"><tspan x="794.77" textLength="9.55" lengthAdjust="spacingAndGlyphs">t</tspan><tspan x="805.32" textLength="16.26" lengthAdjust="spacingAndGlyphs">o</tspan> <tspan x="831.36" textLength="14.40" lengthAdjust="spacingAndGlyphs">F</tspan><tspan x="847.13" textLength="6.25" lengthAdjust="spacingAndGlyphs">i</tspan><tspan x="854.32" textLength="16.62" lengthAdjust="spacingAndGlyphs">d</tspan><tspan x="871.92" textLength="16.49" lengthAdjust="spacingAndGlyphs">u</tspan><tspan x="889.29" textLength="13.80" lengthAdjust="spacingAndGlyphs">c</tspan><tspan x="904.77" textLength="6.25" lengthAdjust="spacingAndGlyphs">i</tspan><tspan x="912.30" textLength="13.75" lengthAdjust="spacingAndGlyphs">a</tspan><tspan x="929.25" textLength="6.25" lengthAdjust="spacingAndGlyphs">l</tspan></text><text y="105.50"><tspan x="41.06" textLength="15.40" lengthAdjust="spacingAndGlyphs">1</tspan><tspan x="58.24" textLength="16.30" lengthAdjust="spacingAndGlyphs">8</tspan><tspan x="75.37" textLength="8.27" lengthAdjust="spacingAndGlyphs">.</tspan><tspan x="84.48" textLength="16.30" lengthAdjust="spacingAndGlyphs">8</tspan></text><text y="105.50"><tspan x="960.69" textLength="15.40" lengthAdjust="spacingAndGlyphs">1</tspan><tspan x="977.87" textLength="16.30" lengthAdjust="spacingAndGlyphs">8</tspan><tspan x="995.00" textLength="8.27" lengthAdjust="spacingAndGlyphs">.</tspan><tspan x="1004.11" textLength="16.30" lengthAdjust="spacingAndGlyphs">8</tspan></text><text y="194.80"><tspan x="41.01" textLength="15.40" lengthAdjust="spacingAndGlyphs">1</tspan><tspan x="57.92" textLength="16.65" lengthAdjust="spacingAndGlyphs">9</tspan><tspan x="75.31" textLength="8.27" lengthAdjust="spacingAndGlyphs">.</tspan><tspan x="84.51" textLength="16.12" lengthAdjust="spacingAndGlyphs">0</tspan></text><text y="194.80"><tspan x="960.69" textLength="15.40" lengthAdjust="spacingAndGlyphs">1</tspan><tspan x="977.60" textLength="16.65" lengthAdjust="spacingAndGlyphs">9</tspan><tspan x="995.00" textLength="8.27" lengthAdjust="spacingAndGlyphs">.</tspan><tspan x="1004.19" textLength="16.12" lengthAdjust="spacingAndGlyphs">0</tspan></text><text y="284.10"><tspan x="41.93" textLength="15.40" lengthAdjust="spacingAndGlyphs">1</tspan><tspan x="58.85" textLength="16.65" lengthAdjust="spacingAndGlyphs">9</tspan><tspan x="76.24" textLength="8.27" lengthAdjust="spacingAndGlyphs">.</tspan><tspan x="85.37" textLength="15.54" lengthAdjust="spacingAndGlyphs">2</tspan></text><text y="284.10"><tspan x="960.69" textLength="15.40" lengthAdjust="spacingAndGlyphs">1</tspan><tspan x="977.60" textLength="16.65" lengthAdjust="spacingAndGlyphs">9</tspan><tspan x="995.00" textLength="8.27" lengthAdjust="spacingAndGlyphs">.</tspan><tspan x="1004.12" textLength="15.54" lengthAdjust="spacingAndGlyphs">2</tspan></text><text y="373.40"><tspan x="40.73" textLength="15.40" lengthAdjust="spacingAndGlyphs">1</tspan><tspan x="57.64" textLength="16.65" lengthAdjust="spacingAndGlyphs">9</tspan><tspan x="75.03" textLength="8.27" lengthAdjust="spacingAndGlyphs">.</tspan><tspan x="84.23" textLength="16.12" lengthAdjust="spacingAndGlyphs">4</tspan></text><text y="373.40"><tspan x="960.69" textLength="15.40" lengthAdjust="spacingAndGlyphs">1</tspan><tspan x="977.60" textLength="16.65" lengthAdjust="spacingAndGlyphs">9</tspan><tspan x="995.00" textLength="8.27" lengthAdjust="spacingAndGlyphs">.</tspan><tspan x="1004.19" textLength="16.12" lengthAdjust="spacingAndGlyphs">4</tspan></text><text y="462.70"><tspan x="40.91" textLength="15.40" lengthAdjust="spacingAndGlyphs">1</tspan><tspan x="57.83" textLength="16.65" lengthAdjust="spacingAndGlyphs">9</tspan><tspan x="75.22" textLength="8.27" lengthAdjust="spacingAndGlyphs">.</tspan><tspan x="84.13" textLength="16.69" lengthAdjust="spacingAndGlyphs">6</tspan></text><text y="462.70"><tspan x="960.69" textLength="15.40" lengthAdjust="spacingAndGlyphs">1</tspan><tspan x="977.60" textLength="16.65" lengthAdjust="spacingAndGlyphs">9</tspan><tspan x="995.00" textLength="8.27" lengthAdjust="spacingAndGlyphs">.</tspan><tspan x="1003.91" textLength="16.69" lengthAdjust="spacingAndGlyphs">6</tspan></text><text y="570.20"><tspan x="133.01" textLength="15.40" lengthAdjust="spacingAndGlyphs">1</tspan><tspan x="149.82" textLength="8.27" lengthAdjust="spacingAndGlyphs">.</tspan><tspan x="158.95" textLength="15.54" lengthAdjust="spacingAndGlyphs">2</tspan></text><text y="570.20"><tspan x="197.24" textLength="15.40" lengthAdjust="spacingAndGlyphs">1</tspan><tspan x="214.04" textLength="8.27" lengthAdjust="spacingAndGlyphs">.</tspan><tspan x="223.59" textLength="15.22" lengthAdjust="spacingAndGlyphs">5</tspan></text><text y="570.20"><tspan x="299.96" textLength="15.40" lengthAdjust="spacingAndGlyphs">1</tspan><tspan x="316.77" textLength="8.27" lengthAdjust="spacingAndGlyphs">.</tspan><tspan x="325.90" textLength="15.54" lengthAdjust="spacingAndGlyphs">2</tspan></text><text y="570.20"><tspan x="364.19" textLength="15.40" lengthAdjust="spacingAndGlyphs">1</tspan><tspan x="380.99" textLength="8.27" lengthAdjust="spacingAndGlyphs">.</tspan><tspan x="390.54" textLength="15.22" lengthAdjust="spacingAndGlyphs">5</tspan></text><text y="570.20"><tspan x="466.91" textLength="15.40" lengthAdjust="spacingAndGlyphs">1</tspan><tspan x="483.72" textLength="8.27" lengthAdjust="spacingAndGlyphs">.</tspan><tspan x="492.85" textLength="15.54" lengthAdjust="spacingAndGlyphs">2</tspan></text><text y="570.20"><tspan x="531.14" textLength="15.40" lengthAdjust="spacingAndGlyphs">1</tspan><tspan x="547.94" textLength="8.27" lengthAdjust="spacingAndGlyphs">.</tspan><tspan x="557.49" textLength="15.22" lengthAdjust="spacingAndGlyphs">5</tspan></text><text y="570.20"><tspan x="633.86" textLength="15.40" lengthAdjust="spacingAndGlyphs">1</tspan><tspan x="650.67" textLength="8.27" lengthAdjust="spacingAndGlyphs">.</tspan><tspan x="659.80" textLength="15.54" lengthAdjust="spacingAndGlyphs">2</tspan></text><text y="570.20"><tspan x="698.09" textLength="15.40" lengthAdjust="spacingAndGlyphs">1</tspan><tspan x="714.89" textLength="8.27" lengthAdjust="spacingAndGlyphs">.</tspan><tspan x="724.44" textLength="15.22" lengthAdjust="spacingAndGlyphs">5</tspan></text><text y="570.20"><tspan x="800.81" textLength="15.40" lengthAdjust="spacingAndGlyphs">1</tspan><tspan x="817.62" textLength="8.27" lengthAdjust="spacingAndGlyphs">.</tspan><tspan x="826.75" textLength="15.54" lengthAdjust="spacingAndGlyphs">2</tspan></text><text y="570.20"><tspan x="865.04" textLength="15.40" lengthAdjust="spacingAndGlyphs">1</tspan><tspan x="881.84" textLength="8.27" lengthAdjust="spacingAndGlyphs">.</tspan><tspan x="891.39" textLength="15.22" lengthAdjust="spacingAndGlyphs">5</tspan></text></g><g font-size="27.34" fill="#f00" stroke="#f00" stroke-width="0.4" ><text y="198.20"><tspan x="122.29" textLength="13.51" lengthAdjust="spacingAndGlyphs">F</tspan><tspan x="137.08" textLength="5.86" lengthAdjust="spacingAndGlyphs">i</tspan><tspan x="143.82" textLength="15.60" lengthAdjust="spacingAndGlyphs">d</tspan><tspan x="160.34" textLength="15.47" lengthAdjust="spacingAndGlyphs">u</tspan><tspan x="176.63" textLength="12.94" lengthAdjust="spacingAndGlyphs">c</tspan><tspan x="191.16" textLength="5.86" lengthAdjust="spacingAndGlyphs">i</tspan><tspan x="198.22" textLength="12.90" lengthAdjust="spacingAndGlyphs">a</tspan><tspan x="214.12" textLength="5.86" lengthAdjust="spacingAndGlyphs">l</tspan></text><text y="256.20"><tspan x="121.07" textLength="17.19" lengthAdjust="spacingAndGlyphs">T</tspan><tspan x="138.04" textLength="17.82" lengthAdjust="spacingAndGlyphs">R</tspan><tspan x="155.64" textLength="19.57" lengthAdjust="spacingAndGlyphs">G</tspan><tspan x="175.93" textLength="16.72" lengthAdjust="spacingAndGlyphs">B</tspan></text></g><g font-size="36.34" fill="#000" stroke="#000" stroke-width="0.4" transform="translate(26.3 409.2) rotate(-90)"><text y="0.00"><tspan x="-2.41" textLength="17.96" lengthAdjust="spacingAndGlyphs">F</tspan><tspan x="17.12" textLength="19.38" lengthAdjust="spacingAndGlyphs">2</tspan><tspan x="39.03" textLength="20.11" lengthAdjust="spacingAndGlyphs">0</tspan><tspan x="60.86" textLength="20.11" lengthAdjust="spacingAndGlyphs">0</tspan><tspan x="82.82" textLength="31.92" lengthAdjust="spacingAndGlyphs">W</tspan> <tspan x="127.78" textLength="9.68" lengthAdjust="spacingAndGlyphs">(</tspan><tspan x="140.55" textLength="32.55" lengthAdjust="spacingAndGlyphs">m</tspan><tspan x="174.19" textLength="17.15" lengthAdjust="spacingAndGlyphs">a</tspan><tspan x="194.79" textLength="20.73" lengthAdjust="spacingAndGlyphs">g</tspan><tspan x="218.80" textLength="9.68" lengthAdjust="spacingAndGlyphs">)</tspan></text></g>
</svg>
</body></html>
